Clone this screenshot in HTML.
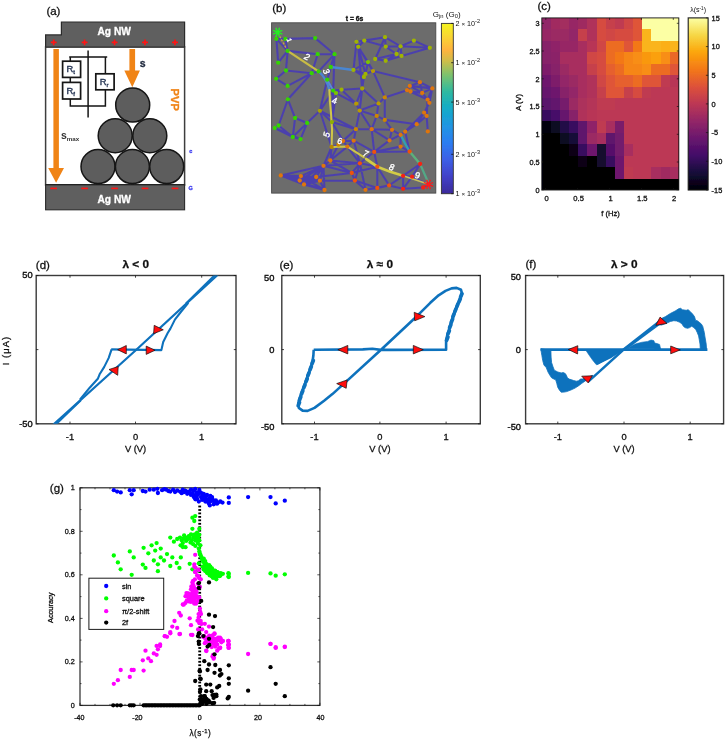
<!DOCTYPE html>
<html lang="en">
<head>
<meta charset="utf-8">
<title>Figure: memristive nanowire network dynamics</title>
<style>
html,body{margin:0;padding:0;background:#fff;}
body{width:725px;height:739px;overflow:hidden;}
svg{display:block;font-family:"Liberation Sans", Arial, Helvetica, sans-serif;}
</style>
</head>
<body>
<svg width="725" height="739" viewBox="0 0 725 739">
<defs>
<filter id="soft" x="-2%" y="-2%" width="104%" height="104%"><feGaussianBlur stdDeviation="0.45"/></filter>
</defs>
<rect x="0" y="0" width="725" height="739" fill="#ffffff"/>
<g filter="url(#soft)">
<g id="panel-a">
<text x="46.4" y="15.2" font-size="11.5" text-anchor="start" fill="#111" stroke="#111" stroke-width="0.3" >(a)</text>
<rect x="45.6" y="47" width="139" height="138" fill="#fff" stroke="#3c3c3c" stroke-width="1.5"/>
<path d="M61.4 22 H184.6 V47 H45.6 V34.9 H61.4 Z" fill="#5e5e5e" stroke="#2c2c2c" stroke-width="1.2"/>
<rect x="45.6" y="184.6" width="139" height="25.2" fill="#5e5e5e" stroke="#2c2c2c" stroke-width="1.1"/>
<path d="M45.6 184.7 H184.6" stroke="#222" stroke-width="1.3"/>
<text x="114.2" y="35.4" font-size="10.2" text-anchor="middle" fill="#fff" font-weight="bold" stroke="#fff" stroke-width="0.3" >Ag NW</text>
<text x="114.2" y="203.4" font-size="10.2" text-anchor="middle" fill="#fff" font-weight="bold" stroke="#fff" stroke-width="0.3" >Ag NW</text>
<path d="M50.8 42.4 H56.6 M53.7 39.5 V45.3" stroke="#ff1212" stroke-width="1.7" fill="none"/>
<path d="M50.4 188.4 H57.0" stroke="#ff1212" stroke-width="1.6" fill="none"/>
<path d="M81.7 42.4 H87.5 M84.6 39.5 V45.3" stroke="#ff1212" stroke-width="1.7" fill="none"/>
<path d="M81.3 188.4 H87.9" stroke="#ff1212" stroke-width="1.6" fill="none"/>
<path d="M111.7 42.4 H117.5 M114.6 39.5 V45.3" stroke="#ff1212" stroke-width="1.7" fill="none"/>
<path d="M111.3 188.4 H117.9" stroke="#ff1212" stroke-width="1.6" fill="none"/>
<path d="M142.1 42.4 H147.9 M145.0 39.5 V45.3" stroke="#ff1212" stroke-width="1.7" fill="none"/>
<path d="M141.7 188.4 H148.3" stroke="#ff1212" stroke-width="1.6" fill="none"/>
<path d="M172.1 42.4 H177.9 M175.0 39.5 V45.3" stroke="#ff1212" stroke-width="1.7" fill="none"/>
<path d="M171.7 188.4 H178.3" stroke="#ff1212" stroke-width="1.6" fill="none"/>
<path d="M53.4 49 H58.9 V168 H64.0 L56.1 182.8 L48.2 168 H53.4 Z" fill="#f08418"/>
<path d="M129.4 49 H135.1 V70.4 H139.9 L132.3 87.2 L124.3 70.4 H129.4 Z" fill="#f08418"/>
<text x="139.7" y="67.2" font-size="10.5" text-anchor="start" fill="#222c40" font-weight="bold" stroke="#222c40" stroke-width="0.3" >s</text>
<text x="61" y="138.6" font-size="10.5" font-weight="bold" fill="#333">s<tspan font-size="6.2" dy="2.2">max</tspan></text>
<text x="171.2" y="88.6" font-size="11.2" text-anchor="start" fill="#f08418" font-weight="bold" stroke="#f08418" stroke-width="0.3" transform="rotate(90 171.2 88.6)" >PVP</text>
<path d="M69.2 57.1 H107.2 M88.1 50.4 V117.5 M70.3 57.1 V106.1 H105.4 V57.1" stroke="#141414" stroke-width="1.5" fill="none"/>
<rect x="62.6" y="61.2" width="18.0" height="16.2" fill="#fff" stroke="#141414" stroke-width="1.7"/>
<text x="66.5" y="72.3" font-size="9.4" fill="#1c2c4c" stroke="#1c2c4c" stroke-width="0.35">R<tspan font-size="6" dy="1.9">t</tspan></text>
<rect x="62.6" y="82.4" width="18.0" height="16.6" fill="#fff" stroke="#141414" stroke-width="1.7"/>
<text x="66.5" y="93.7" font-size="9.4" fill="#1c2c4c" stroke="#1c2c4c" stroke-width="0.35">R<tspan font-size="6" dy="1.9">f</tspan></text>
<rect x="95.8" y="73.8" width="18.3" height="16.0" fill="#fff" stroke="#141414" stroke-width="1.7"/>
<text x="99.7" y="84.8" font-size="9.4" fill="#1c2c4c" stroke="#1c2c4c" stroke-width="0.35">R<tspan font-size="6" dy="1.9">r</tspan></text>
<circle cx="98" cy="166.6" r="17.0" fill="#5d5d5d" stroke="#141414" stroke-width="1.5"/>
<circle cx="132.4" cy="166.6" r="17.0" fill="#5d5d5d" stroke="#141414" stroke-width="1.5"/>
<circle cx="166.7" cy="166.6" r="17.0" fill="#5d5d5d" stroke="#141414" stroke-width="1.5"/>
<circle cx="115.2" cy="135.8" r="17.0" fill="#5d5d5d" stroke="#141414" stroke-width="1.5"/>
<circle cx="149.8" cy="135.8" r="17.0" fill="#5d5d5d" stroke="#141414" stroke-width="1.5"/>
<circle cx="132.7" cy="105.1" r="17.0" fill="#5d5d5d" stroke="#141414" stroke-width="1.5"/>
<text x="189.2" y="153.2" font-size="5.5" text-anchor="start" fill="#3a3af0" font-weight="bold" stroke="#3a3af0" stroke-width="0.3" >c</text>
<text x="188.6" y="190.0" font-size="5.5" text-anchor="start" fill="#3a3af0" font-weight="bold" stroke="#3a3af0" stroke-width="0.3" >G</text>
</g>
<g id="panel-b">
<text x="272.2" y="12.4" font-size="11.5" text-anchor="start" fill="#111" stroke="#111" stroke-width="0.3" >(b)</text>
<text x="354.6" y="20.8" font-size="6.8" text-anchor="middle" fill="#111" font-weight="bold" stroke="#111" stroke-width="0.3" >t = 6s</text>
<rect x="271.6" y="22.8" width="164.2" height="170.3" fill="#6c6c6c" stroke="#4a4a4a" stroke-width="0.9"/>
<filter id="soft2" x="-5%" y="-5%" width="110%" height="110%"><feGaussianBlur stdDeviation="0.45"/></filter>
<path d="M276.4 38.9L278.2 62.7M276.4 38.9L287.6 50.9M285.4 38.9L315.2 38.1M285.4 38.9L287.6 50.9M276.4 38.9L285.4 38.9M315.2 38.1L334.5 54.2M287.6 50.9L317.7 54.2M317.7 54.2L334.5 54.2M287.6 50.9L286.0 70.5M278.2 62.7L287.6 50.9M286.0 70.5L311.7 73.2M286.0 70.5L276.2 78.8M276.2 78.8L287.6 85.9M287.6 85.9L311.7 73.2M317.7 54.2L311.7 73.2M334.5 54.2L318.6 71.4M334.5 54.2L330.7 67.0M334.5 54.2L333.2 90.6M318.6 71.4L327.2 79.7M311.7 73.2L287.9 99.3M318.6 71.4L311.7 73.2M327.2 79.7L333.2 90.6M333.2 90.6L341.5 89.7M336.0 93.1L341.5 89.7M333.2 90.6L336.0 93.1M334.5 54.2L327.2 79.7M278.2 62.7L276.4 38.9M287.9 99.3L278.6 125.5M287.9 99.3L295.1 118.0M295.1 118.0L307.1 123.0M307.1 123.0L319.9 110.8M295.1 118.0L292.8 137.0M307.1 123.0L292.8 137.0M307.1 123.0L300.5 139.1M278.6 125.5L292.8 137.0M274.8 128.0L292.8 137.0M292.8 137.0L300.5 139.1M274.8 128.0L300.5 139.1M278.6 125.5L274.8 128.0M319.9 110.8L333.2 90.6M319.9 110.8L331.6 147.0M319.9 110.8L331.9 122.1M319.9 110.8L355.9 129.2M331.9 122.1L355.9 129.2M331.9 122.1L331.6 147.0M331.9 122.1L343.1 141.0M355.9 129.2L343.1 141.0M355.9 129.2L338.4 144.7M331.6 147.0L330.3 160.5M331.6 147.0L323.5 165.8M338.4 144.7L330.3 160.5M330.3 160.5L323.5 165.8M323.5 165.8L300.9 176.1M323.5 165.8L316.2 177.0M323.5 165.8L280.8 175.4M280.8 175.4L300.9 176.1M280.8 175.4L299.7 180.5M280.8 175.4L324.5 190.0M300.9 176.1L299.7 180.5M299.7 180.5L304.0 184.4M304.0 184.4L324.5 190.0M316.2 177.0L319.9 180.7M319.9 180.7L324.5 190.0M300.9 176.1L324.5 190.0M323.5 165.8L351.8 173.0M316.2 177.0L351.8 173.0M319.9 180.7L354.9 180.5M330.3 160.5L351.8 173.0M347.4 146.6L330.3 160.5M343.1 141.0L347.4 146.6M338.4 144.7L343.1 141.0M331.6 147.0L338.4 144.7M347.4 146.6L353.7 140.7M343.1 141.0L353.7 140.7M300.9 176.1L316.2 177.0M299.7 180.5L319.9 180.7M280.8 175.4L304.0 184.4M356.5 41.8L364.3 40.6M364.3 40.6L385.0 37.2M364.3 40.6L385.7 46.6M385.0 37.2L400.6 46.3M385.0 37.2L375.2 59.0M385.0 37.2L385.7 46.6M385.7 46.6L400.6 46.3M385.7 46.6L396.5 54.0M400.6 46.3L396.5 54.0M400.6 46.3L401.5 55.9M400.6 46.3L413.9 40.6M413.9 40.6L429.8 47.8M400.6 46.3L429.8 47.8M401.5 55.9L429.8 47.8M396.5 54.0L375.2 59.0M401.5 55.9L385.7 60.8M375.2 59.0L385.7 60.8M396.5 54.0L385.7 60.8M358.2 46.8L368.0 62.1M358.2 46.8L373.0 71.1M356.5 41.8L353.5 69.9M358.2 46.8L362.2 88.5M358.2 46.8L365.5 73.9M368.0 62.1L353.5 69.9M368.0 62.1L373.0 71.1M353.5 69.9L365.5 73.9M353.5 69.9L363.9 77.0M373.0 71.1L365.5 73.9M363.9 77.0L362.2 88.5M373.0 71.1L419.9 82.2M373.0 71.1L384.8 97.4M384.8 97.4L407.1 90.2M362.2 88.5L356.2 103.7M362.2 88.5L378.5 103.4M384.8 97.4L378.5 103.4M419.9 82.2L409.8 85.9M419.9 82.2L432.3 88.4M419.9 82.2L422.2 92.9M409.8 85.9L407.1 90.2M409.8 85.9L422.2 92.9M407.1 90.2L410.5 91.5M410.5 91.5L422.2 92.9M410.5 91.5L427.6 99.6M422.2 92.9L432.3 88.4M422.2 92.9L427.6 99.6M432.3 88.4L427.6 99.6M432.3 88.4L429.4 102.8M427.6 99.6L429.4 102.8M409.8 85.9L432.3 88.4M407.1 90.2L427.6 99.6M341.5 89.7L362.2 88.5M356.5 41.8L358.2 46.8M364.3 40.6L358.2 46.8M365.5 73.9L363.9 77.0M368.0 62.1L365.5 73.9M336.0 93.1L356.2 103.7M341.5 89.7L356.2 103.7M362.2 88.5L359.7 110.6M356.2 103.7L359.7 110.6M378.5 103.4L376.7 115.9M378.5 103.4L359.7 110.6M384.8 97.4L384.8 119.9M429.4 102.8L424.1 112.7M427.6 99.6L426.6 115.9M359.7 110.6L355.9 129.2M359.7 110.6L371.7 129.2M359.7 110.6L376.7 115.9M376.7 115.9L384.8 119.9M376.7 115.9L371.7 129.2M384.8 119.9L392.0 129.8M384.8 119.9L416.7 124.2M355.9 129.2L371.7 129.2M371.7 129.2L392.0 129.8M392.0 129.8L400.6 134.8M400.6 134.8L405.2 131.7M405.2 131.7L416.7 124.2M416.7 124.2L424.1 112.7M416.7 124.2L426.6 115.9M424.1 112.7L426.6 115.9M426.6 115.9L427.8 131.4M405.2 131.7L424.1 112.7M355.9 129.2L353.7 140.7M371.7 129.2L389.5 140.4M371.7 129.2L374.2 151.9M392.0 129.8L389.5 140.4M389.5 140.4L400.6 134.8M389.5 140.4L374.2 151.9M400.6 134.8L400.6 146.6M400.6 146.6L409.6 151.5M374.2 151.9L409.6 151.5M374.2 151.9L377.3 166.7M374.2 151.9L359.9 163.3M353.7 140.7L359.9 163.3M353.7 140.7L374.2 151.9M359.9 163.3L377.3 166.7M359.9 163.3L351.8 173.0M359.9 163.3L354.9 180.5M359.9 163.3L365.5 189.8M377.3 166.7L389.1 185.4M377.3 166.7L377.3 187.9M420.1 164.0L412.1 176.7M403.1 175.8L412.1 176.7M403.1 175.8L403.1 188.8M403.1 175.8L389.1 185.4M412.1 176.7L403.1 188.8M389.1 185.4L377.3 187.9M389.1 185.4L403.1 188.8M377.3 187.9L365.5 189.8M403.1 188.8L423.2 187.5M351.8 173.0L354.9 180.5M354.9 180.5L365.5 189.8M351.8 173.0L377.3 166.7M347.4 146.6L359.9 163.3M400.6 146.6L374.2 151.9M405.2 131.7L409.6 151.5M403.1 175.8L420.1 164.0M354.9 180.5L377.3 187.9M377.3 166.7L403.1 175.8M333.2 90.6L331.9 122.1M336.0 93.1L331.9 122.1M327.2 79.7L319.9 110.8M300.9 176.1L319.9 180.7M299.7 180.5L316.2 177.0M304.0 184.4L319.9 180.7M304.0 184.4L316.2 177.0M300.9 176.1L304.0 184.4M280.8 175.4L316.2 177.0M280.8 175.4L319.9 180.7M323.5 165.8L299.7 180.5M323.5 165.8L304.0 184.4M323.5 165.8L319.9 180.7M323.5 165.8L324.5 190.0M330.3 160.5L359.9 163.3M323.5 165.8L359.9 163.3" stroke="#4232c4" stroke-width="2.1" stroke-linecap="round" fill="none" opacity="0.74" filter="url(#soft2)"/>
<path d="M428.5 184.4L423.2 187.5M428.5 184.4L412.1 176.7" stroke="#4232c4" stroke-width="1.6" fill="none" opacity="0.8"/>
<path d="M277.9 33 L287.6 50.9" stroke="#c9a04a" stroke-width="1.3" stroke-dasharray="2.2 1.4" fill="none"/>
<path d="M287.6 50.9 L318.6 71.4" stroke="#c8bc44" stroke-width="2.3" stroke-linecap="round" fill="none"/>
<path d="M318.6 71.4 Q326.5 78 329.4 90" stroke="#4f86cf" stroke-width="2.4" stroke-linecap="round" fill="none"/>
<path d="M327.2 79.7 L333.2 90.6" stroke="#5a8ad6" stroke-width="2.0" stroke-linecap="round" fill="none"/>
<path d="M329.4 90 Q329.6 100 331 113 Q332.8 130 331.6 147" stroke="#cfc648" stroke-width="2.1" stroke-linecap="round" fill="none"/>
<path d="M331.6 147 L347.4 146.6 L363.7 157.1" stroke="#cfc648" stroke-width="2.0" stroke-linecap="round" stroke-linejoin="round" fill="none"/>
<path d="M366 158.8 L377.3 166.7 Q390 172 403.1 175.8" stroke="#d2cc44" stroke-width="2.7" stroke-linecap="round" fill="none"/>
<path d="M403.1 175.8 L426.5 183.5" stroke="#c9c258" stroke-width="1.7" stroke-linecap="round" fill="none"/>
<path d="M330.7 67 L353.5 69.9" stroke="#4a86d2" stroke-width="2.5" stroke-linecap="round" fill="none"/>
<path d="M400.6 134.8 L404.5 142.5 L409.6 151.5" stroke="#2f9fb4" stroke-width="2.3" stroke-linecap="round" fill="none"/>
<path d="M409.6 151.5 L420.1 164" stroke="#5cb07c" stroke-width="2.4" stroke-linecap="round" fill="none"/>
<path d="M420.1 164 L427.8 181.5" stroke="#52a886" stroke-width="2.2" stroke-linecap="round" fill="none"/>
<circle cx="276.4" cy="38.9" r="2.15" fill="#35d400"/>
<circle cx="285.4" cy="38.9" r="2.15" fill="#35d400"/>
<circle cx="315.2" cy="38.1" r="2.15" fill="#35d400"/>
<circle cx="287.6" cy="50.9" r="2.15" fill="#35d400"/>
<circle cx="317.7" cy="54.2" r="2.15" fill="#35d400"/>
<circle cx="334.5" cy="54.2" r="2.15" fill="#35d400"/>
<circle cx="278.2" cy="62.7" r="2.15" fill="#35d400"/>
<circle cx="286.0" cy="70.5" r="2.15" fill="#35d400"/>
<circle cx="311.7" cy="73.2" r="2.15" fill="#35d400"/>
<circle cx="318.6" cy="71.4" r="2.15" fill="#35d400"/>
<circle cx="330.7" cy="67.0" r="2.15" fill="#35d400"/>
<circle cx="276.2" cy="78.8" r="2.15" fill="#35d400"/>
<circle cx="287.6" cy="85.9" r="2.15" fill="#35d400"/>
<circle cx="327.2" cy="79.7" r="2.15" fill="#35d400"/>
<circle cx="333.2" cy="90.6" r="2.15" fill="#35d400"/>
<circle cx="336.0" cy="93.1" r="2.15" fill="#7cc400"/>
<circle cx="341.5" cy="89.7" r="2.15" fill="#9fb400"/>
<circle cx="287.9" cy="99.3" r="2.15" fill="#35d400"/>
<circle cx="353.5" cy="69.9" r="2.15" fill="#9fb400"/>
<circle cx="356.5" cy="41.8" r="2.15" fill="#9fb400"/>
<circle cx="364.3" cy="40.6" r="2.15" fill="#9fb400"/>
<circle cx="358.2" cy="46.8" r="2.15" fill="#9fb400"/>
<circle cx="385.0" cy="37.2" r="2.15" fill="#9fb400"/>
<circle cx="385.7" cy="46.6" r="2.15" fill="#9fb400"/>
<circle cx="400.6" cy="46.3" r="2.15" fill="#9fb400"/>
<circle cx="396.5" cy="54.0" r="2.15" fill="#9fb400"/>
<circle cx="401.5" cy="55.9" r="2.15" fill="#9fb400"/>
<circle cx="413.9" cy="40.6" r="2.15" fill="#9fb400"/>
<circle cx="429.8" cy="47.8" r="2.15" fill="#9fb400"/>
<circle cx="375.2" cy="59.0" r="2.15" fill="#9fb400"/>
<circle cx="385.7" cy="60.8" r="2.15" fill="#9fb400"/>
<circle cx="368.0" cy="62.1" r="2.15" fill="#7cc400"/>
<circle cx="373.0" cy="71.1" r="2.15" fill="#b89a00"/>
<circle cx="365.5" cy="73.9" r="2.15" fill="#9fb400"/>
<circle cx="363.9" cy="77.0" r="2.15" fill="#9fb400"/>
<circle cx="362.2" cy="88.5" r="2.15" fill="#a8a600"/>
<circle cx="384.8" cy="97.4" r="2.15" fill="#cc8600"/>
<circle cx="378.5" cy="103.4" r="2.15" fill="#b89a00"/>
<circle cx="356.2" cy="103.7" r="2.15" fill="#b89a00"/>
<circle cx="419.9" cy="82.2" r="2.15" fill="#de7408"/>
<circle cx="409.8" cy="85.9" r="2.15" fill="#de7408"/>
<circle cx="407.1" cy="90.2" r="2.15" fill="#de7408"/>
<circle cx="410.5" cy="91.5" r="2.15" fill="#de7408"/>
<circle cx="422.2" cy="92.9" r="2.15" fill="#de7408"/>
<circle cx="432.3" cy="88.4" r="2.15" fill="#de7408"/>
<circle cx="427.6" cy="99.6" r="2.15" fill="#de7408"/>
<circle cx="429.4" cy="102.8" r="2.15" fill="#de7408"/>
<circle cx="295.1" cy="118.0" r="2.15" fill="#35d400"/>
<circle cx="307.1" cy="123.0" r="2.15" fill="#35d400"/>
<circle cx="278.6" cy="125.5" r="2.15" fill="#35d400"/>
<circle cx="274.8" cy="128.0" r="2.15" fill="#35d400"/>
<circle cx="292.8" cy="137.0" r="2.15" fill="#35d400"/>
<circle cx="300.5" cy="139.1" r="2.15" fill="#35d400"/>
<circle cx="319.9" cy="110.8" r="2.15" fill="#a8a000"/>
<circle cx="331.9" cy="122.1" r="2.15" fill="#90b000"/>
<circle cx="355.9" cy="129.2" r="2.15" fill="#cc8600"/>
<circle cx="331.6" cy="147.0" r="2.15" fill="#b88800"/>
<circle cx="338.4" cy="144.7" r="2.15" fill="#cc8600"/>
<circle cx="343.1" cy="141.0" r="2.15" fill="#de7408"/>
<circle cx="347.4" cy="146.6" r="2.15" fill="#de7408"/>
<circle cx="353.7" cy="140.7" r="2.15" fill="#de7408"/>
<circle cx="330.3" cy="160.5" r="2.15" fill="#de7408"/>
<circle cx="323.5" cy="165.8" r="2.15" fill="#de7408"/>
<circle cx="280.8" cy="175.4" r="2.15" fill="#de7408"/>
<circle cx="300.9" cy="176.1" r="2.15" fill="#de7408"/>
<circle cx="299.7" cy="180.5" r="2.15" fill="#de7408"/>
<circle cx="304.0" cy="184.4" r="2.15" fill="#de7408"/>
<circle cx="316.2" cy="177.0" r="2.15" fill="#de7408"/>
<circle cx="319.9" cy="180.7" r="2.15" fill="#de7408"/>
<circle cx="324.5" cy="190.0" r="2.15" fill="#de7408"/>
<circle cx="351.8" cy="173.0" r="2.15" fill="#ee5208"/>
<circle cx="354.9" cy="180.5" r="2.15" fill="#ee5208"/>
<circle cx="359.7" cy="110.6" r="2.15" fill="#b89a00"/>
<circle cx="376.7" cy="115.9" r="2.15" fill="#cc8600"/>
<circle cx="384.8" cy="119.9" r="2.15" fill="#cc8600"/>
<circle cx="371.7" cy="129.2" r="2.15" fill="#de7408"/>
<circle cx="392.0" cy="129.8" r="2.15" fill="#de7408"/>
<circle cx="400.6" cy="134.8" r="2.15" fill="#de7408"/>
<circle cx="405.2" cy="131.7" r="2.15" fill="#de7408"/>
<circle cx="416.7" cy="124.2" r="2.15" fill="#de7408"/>
<circle cx="424.1" cy="112.7" r="2.15" fill="#de7408"/>
<circle cx="426.6" cy="115.9" r="2.15" fill="#de7408"/>
<circle cx="427.8" cy="131.4" r="2.15" fill="#de7408"/>
<circle cx="389.5" cy="140.4" r="2.15" fill="#de7408"/>
<circle cx="400.6" cy="146.6" r="2.15" fill="#de7408"/>
<circle cx="374.2" cy="151.9" r="2.15" fill="#ee5208"/>
<circle cx="409.6" cy="151.5" r="2.15" fill="#ee5208"/>
<circle cx="359.9" cy="163.3" r="2.15" fill="#ee5208"/>
<circle cx="377.3" cy="166.7" r="2.15" fill="#ee5208"/>
<circle cx="420.1" cy="164.0" r="2.15" fill="#f52412"/>
<circle cx="403.1" cy="175.8" r="2.15" fill="#f52412"/>
<circle cx="412.1" cy="176.7" r="2.15" fill="#f52412"/>
<circle cx="389.1" cy="185.4" r="2.15" fill="#ee5208"/>
<circle cx="377.3" cy="187.9" r="2.15" fill="#ee5208"/>
<circle cx="365.5" cy="189.8" r="2.15" fill="#de7408"/>
<circle cx="403.1" cy="188.8" r="2.15" fill="#f52412"/>
<circle cx="423.2" cy="187.5" r="2.15" fill="#f52412"/>
<path d="M273.1 30.4L282.3 34.2M275.8 27.7L279.6 36.9M279.6 27.7L275.8 36.9M282.3 30.4L273.1 34.2" stroke="#22f022" stroke-width="1.35" fill="none"/>
<path d="M423.9 182.5L433.1 186.3M426.6 179.8L430.4 189.0M430.4 179.8L426.6 189.0M433.1 182.5L423.9 186.3" stroke="#ff1a1a" stroke-width="1.35" fill="none"/>
<text x="286.6" y="39.6" font-size="6.4" text-anchor="start" fill="#fff" stroke="#fff" stroke-width="0.35" font-style="italic" transform="rotate(62 286.6 39.6)" >1</text>
<text x="303.4" y="58.6" font-size="8.8" text-anchor="start" fill="#fff" stroke="#fff" stroke-width="0.35" font-style="italic" transform="rotate(25 303.4 58.6)" >2</text>
<text x="322.4" y="70.6" font-size="8.8" text-anchor="start" fill="#fff" stroke="#fff" stroke-width="0.35" font-style="italic" transform="rotate(62 322.4 70.6)" >3</text>
<text x="331.4" y="103.2" font-size="8.8" text-anchor="start" fill="#fff" stroke="#fff" stroke-width="0.35" font-style="italic" transform="rotate(10 331.4 103.2)" >4</text>
<text x="329.0" y="137.8" font-size="8.8" text-anchor="start" fill="#fff" stroke="#fff" stroke-width="0.35" font-style="italic" transform="rotate(-78 329.0 137.8)" >5</text>
<text x="337.2" y="143.8" font-size="8.8" text-anchor="start" fill="#fff" stroke="#fff" stroke-width="0.35" font-style="italic" transform="rotate(0 337.2 143.8)" >6</text>
<text x="362.2" y="155.6" font-size="8.8" text-anchor="start" fill="#fff" stroke="#fff" stroke-width="0.35" font-style="italic" transform="rotate(22 362.2 155.6)" >7</text>
<text x="388.4" y="169.4" font-size="8.8" text-anchor="start" fill="#fff" stroke="#fff" stroke-width="0.35" font-style="italic" transform="rotate(14 388.4 169.4)" >8</text>
<text x="414.6" y="178.0" font-size="8.8" text-anchor="start" fill="#fff" stroke="#fff" stroke-width="0.35" font-style="italic" transform="rotate(8 414.6 178.0)" >9</text>
<linearGradient id="parula" x1="0" y1="1" x2="0" y2="0">
<stop offset="0" stop-color="#3b2a9a"/><stop offset="0.1" stop-color="#4140c8"/><stop offset="0.2" stop-color="#3d5fe6"/>
<stop offset="0.3" stop-color="#2b7df2"/><stop offset="0.4" stop-color="#2096e2"/><stop offset="0.5" stop-color="#12abc8"/>
<stop offset="0.6" stop-color="#2fb9a0"/><stop offset="0.7" stop-color="#7fc26c"/><stop offset="0.78" stop-color="#cfbd4a"/>
<stop offset="0.845" stop-color="#ffb33e"/><stop offset="0.93" stop-color="#f8d832"/><stop offset="1" stop-color="#f4f41e"/>
</linearGradient>
<rect x="441.4" y="23.4" width="11.9" height="170.3" fill="url(#parula)" stroke="#333" stroke-width="0.9"/>
<path d="M451.2 23.4 H453.3" stroke="#111" stroke-width="0.8"/>
<text x="455.4" y="26.0" font-size="7.2" fill="#111">2 <tspan font-size="6.2">×</tspan> 10<tspan font-size="5.6" dy="-3">-2</tspan></text>
<path d="M451.2 62.7 H453.3" stroke="#111" stroke-width="0.8"/>
<text x="455.4" y="65.3" font-size="7.2" fill="#111">1 <tspan font-size="6.2">×</tspan> 10<tspan font-size="5.6" dy="-3">-2</tspan></text>
<path d="M451.2 102.1 H453.3" stroke="#111" stroke-width="0.8"/>
<text x="455.4" y="104.7" font-size="7.2" fill="#111">5 <tspan font-size="6.2">×</tspan> 10<tspan font-size="5.6" dy="-3">-3</tspan></text>
<path d="M451.2 154.3 H453.3" stroke="#111" stroke-width="0.8"/>
<text x="455.4" y="156.9" font-size="7.2" fill="#111">2 <tspan font-size="6.2">×</tspan> 10<tspan font-size="5.6" dy="-3">-3</tspan></text>
<path d="M451.2 193.7 H453.3" stroke="#111" stroke-width="0.8"/>
<text x="455.4" y="196.3" font-size="7.2" fill="#111">1 <tspan font-size="6.2">×</tspan> 10<tspan font-size="5.6" dy="-3">-3</tspan></text>
<text x="432.8" y="16.6" font-size="8" fill="#111">G<tspan font-size="5.8" dy="1.8">jn</tspan><tspan dy="-1.8"> (G</tspan><tspan font-size="5.8" dy="1.8">0</tspan><tspan dy="-1.8">)</tspan></text>
</g>
<g id="panel-c">
<text x="537.4" y="10.2" font-size="11.5" text-anchor="start" fill="#111" stroke="#111" stroke-width="0.3" >(c)</text>
<g shape-rendering="crispEdges">
<rect x="541.80" y="17.90" width="9.43" height="11.77" fill="#912567"/>
<rect x="550.93" y="17.90" width="9.43" height="11.77" fill="#a12c60"/>
<rect x="560.07" y="17.90" width="9.43" height="11.77" fill="#a32d5f"/>
<rect x="569.20" y="17.90" width="9.43" height="11.77" fill="#972865"/>
<rect x="578.33" y="17.90" width="9.43" height="11.77" fill="#9f2b61"/>
<rect x="587.47" y="17.90" width="9.43" height="11.77" fill="#b0325a"/>
<rect x="596.60" y="17.90" width="9.43" height="11.77" fill="#d64c3f"/>
<rect x="605.73" y="17.90" width="9.43" height="11.77" fill="#c63f4c"/>
<rect x="614.87" y="17.90" width="9.43" height="11.77" fill="#bf3a51"/>
<rect x="624.00" y="17.90" width="9.43" height="11.77" fill="#d04744"/>
<rect x="633.13" y="17.90" width="9.43" height="11.77" fill="#df5537"/>
<rect x="642.27" y="17.90" width="9.43" height="11.77" fill="#fcffa4"/>
<rect x="651.40" y="17.90" width="9.43" height="11.77" fill="#fcffa4"/>
<rect x="660.53" y="17.90" width="9.43" height="11.77" fill="#fcffa4"/>
<rect x="669.67" y="17.90" width="9.43" height="11.77" fill="#fcffa4"/>
<rect x="541.80" y="29.37" width="9.43" height="11.77" fill="#972865"/>
<rect x="550.93" y="29.37" width="9.43" height="11.77" fill="#9b2963"/>
<rect x="560.07" y="29.37" width="9.43" height="11.77" fill="#9b2963"/>
<rect x="569.20" y="29.37" width="9.43" height="11.77" fill="#932667"/>
<rect x="578.33" y="29.37" width="9.43" height="11.77" fill="#c63f4c"/>
<rect x="587.47" y="29.37" width="9.43" height="11.77" fill="#b0325a"/>
<rect x="596.60" y="29.37" width="9.43" height="11.77" fill="#d64c3f"/>
<rect x="605.73" y="29.37" width="9.43" height="11.77" fill="#d04744"/>
<rect x="614.87" y="29.37" width="9.43" height="11.77" fill="#d64c3f"/>
<rect x="624.00" y="29.37" width="9.43" height="11.77" fill="#d64c3f"/>
<rect x="633.13" y="29.37" width="9.43" height="11.77" fill="#df5537"/>
<rect x="642.27" y="29.37" width="9.43" height="11.77" fill="#fab41c"/>
<rect x="651.40" y="29.37" width="9.43" height="11.77" fill="#fcffa4"/>
<rect x="660.53" y="29.37" width="9.43" height="11.77" fill="#fcffa4"/>
<rect x="669.67" y="29.37" width="9.43" height="11.77" fill="#fcffa4"/>
<rect x="541.80" y="40.85" width="9.43" height="11.77" fill="#872269"/>
<rect x="550.93" y="40.85" width="9.43" height="11.77" fill="#8f2468"/>
<rect x="560.07" y="40.85" width="9.43" height="11.77" fill="#972865"/>
<rect x="569.20" y="40.85" width="9.43" height="11.77" fill="#972865"/>
<rect x="578.33" y="40.85" width="9.43" height="11.77" fill="#a82e5e"/>
<rect x="587.47" y="40.85" width="9.43" height="11.77" fill="#b83556"/>
<rect x="596.60" y="40.85" width="9.43" height="11.77" fill="#d04744"/>
<rect x="605.73" y="40.85" width="9.43" height="11.77" fill="#ec6c23"/>
<rect x="614.87" y="40.85" width="9.43" height="11.77" fill="#ec6c23"/>
<rect x="624.00" y="40.85" width="9.43" height="11.77" fill="#df5537"/>
<rect x="633.13" y="40.85" width="9.43" height="11.77" fill="#f37819"/>
<rect x="642.27" y="40.85" width="9.43" height="11.77" fill="#fab41c"/>
<rect x="651.40" y="40.85" width="9.43" height="11.77" fill="#fab41c"/>
<rect x="660.53" y="40.85" width="9.43" height="11.77" fill="#fbaf16"/>
<rect x="669.67" y="40.85" width="9.43" height="11.77" fill="#fab41c"/>
<rect x="541.80" y="52.32" width="9.43" height="11.77" fill="#872269"/>
<rect x="550.93" y="52.32" width="9.43" height="11.77" fill="#8b2368"/>
<rect x="560.07" y="52.32" width="9.43" height="11.77" fill="#a82e5e"/>
<rect x="569.20" y="52.32" width="9.43" height="11.77" fill="#a82e5e"/>
<rect x="578.33" y="52.32" width="9.43" height="11.77" fill="#a82e5e"/>
<rect x="587.47" y="52.32" width="9.43" height="11.77" fill="#d04744"/>
<rect x="596.60" y="52.32" width="9.43" height="11.77" fill="#d64c3f"/>
<rect x="605.73" y="52.32" width="9.43" height="11.77" fill="#ec6c23"/>
<rect x="614.87" y="52.32" width="9.43" height="11.77" fill="#f37819"/>
<rect x="624.00" y="52.32" width="9.43" height="11.77" fill="#f68614"/>
<rect x="633.13" y="52.32" width="9.43" height="11.77" fill="#f88e12"/>
<rect x="642.27" y="52.32" width="9.43" height="11.77" fill="#f9980e"/>
<rect x="651.40" y="52.32" width="9.43" height="11.77" fill="#fba00c"/>
<rect x="660.53" y="52.32" width="9.43" height="11.77" fill="#f88e12"/>
<rect x="669.67" y="52.32" width="9.43" height="11.77" fill="#ea6826"/>
<rect x="541.80" y="63.79" width="9.43" height="11.77" fill="#7e1e6a"/>
<rect x="550.93" y="63.79" width="9.43" height="11.77" fill="#872269"/>
<rect x="560.07" y="63.79" width="9.43" height="11.77" fill="#9b2963"/>
<rect x="569.20" y="63.79" width="9.43" height="11.77" fill="#a82e5e"/>
<rect x="578.33" y="63.79" width="9.43" height="11.77" fill="#a82e5e"/>
<rect x="587.47" y="63.79" width="9.43" height="11.77" fill="#c63f4c"/>
<rect x="596.60" y="63.79" width="9.43" height="11.77" fill="#d64c3f"/>
<rect x="605.73" y="63.79" width="9.43" height="11.77" fill="#e6612d"/>
<rect x="614.87" y="63.79" width="9.43" height="11.77" fill="#ec6c23"/>
<rect x="624.00" y="63.79" width="9.43" height="11.77" fill="#f68614"/>
<rect x="633.13" y="63.79" width="9.43" height="11.77" fill="#f68614"/>
<rect x="642.27" y="63.79" width="9.43" height="11.77" fill="#f88e12"/>
<rect x="651.40" y="63.79" width="9.43" height="11.77" fill="#ec6c23"/>
<rect x="660.53" y="63.79" width="9.43" height="11.77" fill="#ec6c23"/>
<rect x="669.67" y="63.79" width="9.43" height="11.77" fill="#df5537"/>
<rect x="541.80" y="75.27" width="9.43" height="11.77" fill="#6e186d"/>
<rect x="550.93" y="75.27" width="9.43" height="11.77" fill="#7e1e6a"/>
<rect x="560.07" y="75.27" width="9.43" height="11.77" fill="#932667"/>
<rect x="569.20" y="75.27" width="9.43" height="11.77" fill="#9b2963"/>
<rect x="578.33" y="75.27" width="9.43" height="11.77" fill="#a82e5e"/>
<rect x="587.47" y="75.27" width="9.43" height="11.77" fill="#b0325a"/>
<rect x="596.60" y="75.27" width="9.43" height="11.77" fill="#d04744"/>
<rect x="605.73" y="75.27" width="9.43" height="11.77" fill="#df5537"/>
<rect x="614.87" y="75.27" width="9.43" height="11.77" fill="#e6612d"/>
<rect x="624.00" y="75.27" width="9.43" height="11.77" fill="#e6612d"/>
<rect x="633.13" y="75.27" width="9.43" height="11.77" fill="#ec6c23"/>
<rect x="642.27" y="75.27" width="9.43" height="11.77" fill="#df5537"/>
<rect x="651.40" y="75.27" width="9.43" height="11.77" fill="#df5537"/>
<rect x="660.53" y="75.27" width="9.43" height="11.77" fill="#bf3a51"/>
<rect x="669.67" y="75.27" width="9.43" height="11.77" fill="#b83556"/>
<rect x="541.80" y="86.74" width="9.43" height="11.77" fill="#66166d"/>
<rect x="550.93" y="86.74" width="9.43" height="11.77" fill="#6e186d"/>
<rect x="560.07" y="86.74" width="9.43" height="11.77" fill="#872269"/>
<rect x="569.20" y="86.74" width="9.43" height="11.77" fill="#932667"/>
<rect x="578.33" y="86.74" width="9.43" height="11.77" fill="#a82e5e"/>
<rect x="587.47" y="86.74" width="9.43" height="11.77" fill="#b0325a"/>
<rect x="596.60" y="86.74" width="9.43" height="11.77" fill="#c63f4c"/>
<rect x="605.73" y="86.74" width="9.43" height="11.77" fill="#df5537"/>
<rect x="614.87" y="86.74" width="9.43" height="11.77" fill="#df5537"/>
<rect x="624.00" y="86.74" width="9.43" height="11.77" fill="#c63f4c"/>
<rect x="633.13" y="86.74" width="9.43" height="11.77" fill="#d64c3f"/>
<rect x="642.27" y="86.74" width="9.43" height="11.77" fill="#bf3a51"/>
<rect x="651.40" y="86.74" width="9.43" height="11.77" fill="#bc3754"/>
<rect x="660.53" y="86.74" width="9.43" height="11.77" fill="#bc3754"/>
<rect x="669.67" y="86.74" width="9.43" height="11.77" fill="#bc3754"/>
<rect x="541.80" y="98.21" width="9.43" height="11.77" fill="#5a126c"/>
<rect x="550.93" y="98.21" width="9.43" height="11.77" fill="#62146d"/>
<rect x="560.07" y="98.21" width="9.43" height="11.77" fill="#761c6c"/>
<rect x="569.20" y="98.21" width="9.43" height="11.77" fill="#9b2963"/>
<rect x="578.33" y="98.21" width="9.43" height="11.77" fill="#ac305c"/>
<rect x="587.47" y="98.21" width="9.43" height="11.77" fill="#b43458"/>
<rect x="596.60" y="98.21" width="9.43" height="11.77" fill="#bf3a51"/>
<rect x="605.73" y="98.21" width="9.43" height="11.77" fill="#bf3a51"/>
<rect x="614.87" y="98.21" width="9.43" height="11.77" fill="#bc3754"/>
<rect x="624.00" y="98.21" width="9.43" height="11.77" fill="#bc3754"/>
<rect x="633.13" y="98.21" width="9.43" height="11.77" fill="#bc3754"/>
<rect x="642.27" y="98.21" width="9.43" height="11.77" fill="#bc3754"/>
<rect x="651.40" y="98.21" width="9.43" height="11.77" fill="#bc3754"/>
<rect x="660.53" y="98.21" width="9.43" height="11.77" fill="#bc3754"/>
<rect x="669.67" y="98.21" width="9.43" height="11.77" fill="#bc3754"/>
<rect x="541.80" y="109.69" width="9.43" height="11.77" fill="#390a5f"/>
<rect x="550.93" y="109.69" width="9.43" height="11.77" fill="#460b69"/>
<rect x="560.07" y="109.69" width="9.43" height="11.77" fill="#66166d"/>
<rect x="569.20" y="109.69" width="9.43" height="11.77" fill="#872269"/>
<rect x="578.33" y="109.69" width="9.43" height="11.77" fill="#b0325a"/>
<rect x="587.47" y="109.69" width="9.43" height="11.77" fill="#b83556"/>
<rect x="596.60" y="109.69" width="9.43" height="11.77" fill="#bc3754"/>
<rect x="605.73" y="109.69" width="9.43" height="11.77" fill="#bc3754"/>
<rect x="614.87" y="109.69" width="9.43" height="11.77" fill="#bc3754"/>
<rect x="624.00" y="109.69" width="9.43" height="11.77" fill="#bc3754"/>
<rect x="633.13" y="109.69" width="9.43" height="11.77" fill="#bc3754"/>
<rect x="642.27" y="109.69" width="9.43" height="11.77" fill="#bc3754"/>
<rect x="651.40" y="109.69" width="9.43" height="11.77" fill="#bc3754"/>
<rect x="660.53" y="109.69" width="9.43" height="11.77" fill="#bc3754"/>
<rect x="669.67" y="109.69" width="9.43" height="11.77" fill="#bc3754"/>
<rect x="541.80" y="121.16" width="9.43" height="11.77" fill="#020109"/>
<rect x="550.93" y="121.16" width="9.43" height="11.77" fill="#0d0724"/>
<rect x="560.07" y="121.16" width="9.43" height="11.77" fill="#230b47"/>
<rect x="569.20" y="121.16" width="9.43" height="11.77" fill="#390a5f"/>
<rect x="578.33" y="121.16" width="9.43" height="11.77" fill="#5e136c"/>
<rect x="587.47" y="121.16" width="9.43" height="11.77" fill="#8f2468"/>
<rect x="596.60" y="121.16" width="9.43" height="11.77" fill="#bf3a51"/>
<rect x="605.73" y="121.16" width="9.43" height="11.77" fill="#a82e5e"/>
<rect x="614.87" y="121.16" width="9.43" height="11.77" fill="#7a1d6b"/>
<rect x="624.00" y="121.16" width="9.43" height="11.77" fill="#bc3754"/>
<rect x="633.13" y="121.16" width="9.43" height="11.77" fill="#bc3754"/>
<rect x="642.27" y="121.16" width="9.43" height="11.77" fill="#bc3754"/>
<rect x="651.40" y="121.16" width="9.43" height="11.77" fill="#bc3754"/>
<rect x="660.53" y="121.16" width="9.43" height="11.77" fill="#bc3754"/>
<rect x="669.67" y="121.16" width="9.43" height="11.77" fill="#bc3754"/>
<rect x="541.80" y="132.63" width="9.43" height="11.77" fill="#000004"/>
<rect x="550.93" y="132.63" width="9.43" height="11.77" fill="#000004"/>
<rect x="560.07" y="132.63" width="9.43" height="11.77" fill="#0d0724"/>
<rect x="569.20" y="132.63" width="9.43" height="11.77" fill="#160b39"/>
<rect x="578.33" y="132.63" width="9.43" height="11.77" fill="#5e136c"/>
<rect x="587.47" y="132.63" width="9.43" height="11.77" fill="#9b2963"/>
<rect x="596.60" y="132.63" width="9.43" height="11.77" fill="#a82e5e"/>
<rect x="605.73" y="132.63" width="9.43" height="11.77" fill="#5e136c"/>
<rect x="614.87" y="132.63" width="9.43" height="11.77" fill="#721a6d"/>
<rect x="624.00" y="132.63" width="9.43" height="11.77" fill="#bc3754"/>
<rect x="633.13" y="132.63" width="9.43" height="11.77" fill="#bc3754"/>
<rect x="642.27" y="132.63" width="9.43" height="11.77" fill="#bc3754"/>
<rect x="651.40" y="132.63" width="9.43" height="11.77" fill="#bc3754"/>
<rect x="660.53" y="132.63" width="9.43" height="11.77" fill="#bc3754"/>
<rect x="669.67" y="132.63" width="9.43" height="11.77" fill="#bc3754"/>
<rect x="541.80" y="144.11" width="9.43" height="11.77" fill="#000004"/>
<rect x="550.93" y="144.11" width="9.43" height="11.77" fill="#000004"/>
<rect x="560.07" y="144.11" width="9.43" height="11.77" fill="#000004"/>
<rect x="569.20" y="144.11" width="9.43" height="11.77" fill="#070314"/>
<rect x="578.33" y="144.11" width="9.43" height="11.77" fill="#390a5f"/>
<rect x="587.47" y="144.11" width="9.43" height="11.77" fill="#6e186d"/>
<rect x="596.60" y="144.11" width="9.43" height="11.77" fill="#12092e"/>
<rect x="605.73" y="144.11" width="9.43" height="11.77" fill="#56106b"/>
<rect x="614.87" y="144.11" width="9.43" height="11.77" fill="#721a6d"/>
<rect x="624.00" y="144.11" width="9.43" height="11.77" fill="#a82e5e"/>
<rect x="633.13" y="144.11" width="9.43" height="11.77" fill="#bc3754"/>
<rect x="642.27" y="144.11" width="9.43" height="11.77" fill="#bc3754"/>
<rect x="651.40" y="144.11" width="9.43" height="11.77" fill="#bc3754"/>
<rect x="660.53" y="144.11" width="9.43" height="11.77" fill="#bc3754"/>
<rect x="669.67" y="144.11" width="9.43" height="11.77" fill="#bc3754"/>
<rect x="541.80" y="155.58" width="9.43" height="11.77" fill="#000004"/>
<rect x="550.93" y="155.58" width="9.43" height="11.77" fill="#000004"/>
<rect x="560.07" y="155.58" width="9.43" height="11.77" fill="#000004"/>
<rect x="569.20" y="155.58" width="9.43" height="11.77" fill="#000004"/>
<rect x="578.33" y="155.58" width="9.43" height="11.77" fill="#070314"/>
<rect x="587.47" y="155.58" width="9.43" height="11.77" fill="#000004"/>
<rect x="596.60" y="155.58" width="9.43" height="11.77" fill="#12092e"/>
<rect x="605.73" y="155.58" width="9.43" height="11.77" fill="#390a5f"/>
<rect x="614.87" y="155.58" width="9.43" height="11.77" fill="#6e186d"/>
<rect x="624.00" y="155.58" width="9.43" height="11.77" fill="#bc3754"/>
<rect x="633.13" y="155.58" width="9.43" height="11.77" fill="#bc3754"/>
<rect x="642.27" y="155.58" width="9.43" height="11.77" fill="#bc3754"/>
<rect x="651.40" y="155.58" width="9.43" height="11.77" fill="#bc3754"/>
<rect x="660.53" y="155.58" width="9.43" height="11.77" fill="#bc3754"/>
<rect x="669.67" y="155.58" width="9.43" height="11.77" fill="#bc3754"/>
<rect x="541.80" y="167.05" width="9.43" height="11.77" fill="#000004"/>
<rect x="550.93" y="167.05" width="9.43" height="11.77" fill="#000004"/>
<rect x="560.07" y="167.05" width="9.43" height="11.77" fill="#000004"/>
<rect x="569.20" y="167.05" width="9.43" height="11.77" fill="#000004"/>
<rect x="578.33" y="167.05" width="9.43" height="11.77" fill="#000004"/>
<rect x="587.47" y="167.05" width="9.43" height="11.77" fill="#000004"/>
<rect x="596.60" y="167.05" width="9.43" height="11.77" fill="#000004"/>
<rect x="605.73" y="167.05" width="9.43" height="11.77" fill="#000004"/>
<rect x="614.87" y="167.05" width="9.43" height="11.77" fill="#6e186d"/>
<rect x="624.00" y="167.05" width="9.43" height="11.77" fill="#bf3a51"/>
<rect x="633.13" y="167.05" width="9.43" height="11.77" fill="#bc3754"/>
<rect x="642.27" y="167.05" width="9.43" height="11.77" fill="#bc3754"/>
<rect x="651.40" y="167.05" width="9.43" height="11.77" fill="#a82e5e"/>
<rect x="660.53" y="167.05" width="9.43" height="11.77" fill="#9f2b61"/>
<rect x="669.67" y="167.05" width="9.43" height="11.77" fill="#a82e5e"/>
<rect x="541.80" y="178.53" width="9.43" height="11.77" fill="#000004"/>
<rect x="550.93" y="178.53" width="9.43" height="11.77" fill="#000004"/>
<rect x="560.07" y="178.53" width="9.43" height="11.77" fill="#000004"/>
<rect x="569.20" y="178.53" width="9.43" height="11.77" fill="#000004"/>
<rect x="578.33" y="178.53" width="9.43" height="11.77" fill="#000004"/>
<rect x="587.47" y="178.53" width="9.43" height="11.77" fill="#000004"/>
<rect x="596.60" y="178.53" width="9.43" height="11.77" fill="#000004"/>
<rect x="605.73" y="178.53" width="9.43" height="11.77" fill="#000004"/>
<rect x="614.87" y="178.53" width="9.43" height="11.77" fill="#000004"/>
<rect x="624.00" y="178.53" width="9.43" height="11.77" fill="#000004"/>
<rect x="633.13" y="178.53" width="9.43" height="11.77" fill="#000004"/>
<rect x="642.27" y="178.53" width="9.43" height="11.77" fill="#000004"/>
<rect x="651.40" y="178.53" width="9.43" height="11.77" fill="#000004"/>
<rect x="660.53" y="178.53" width="9.43" height="11.77" fill="#000004"/>
<rect x="669.67" y="178.53" width="9.43" height="11.77" fill="#000004"/>
</g>
<rect x="541.8" y="17.9" width="137.0" height="172.1" fill="none" stroke="#111" stroke-width="0.9"/>
<text x="539.6" y="26.0" font-size="7.3" text-anchor="end" fill="#111" stroke="#111" stroke-width="0.3" >3</text>
<path d="M541.8 23.3 h2 M678.8 23.3 h-2" stroke="#111" stroke-width="0.7"/>
<text x="539.6" y="53.7" font-size="7.3" text-anchor="end" fill="#111" stroke="#111" stroke-width="0.3" >2.5</text>
<path d="M541.8 51.0 h2 M678.8 51.0 h-2" stroke="#111" stroke-width="0.7"/>
<text x="539.6" y="81.5" font-size="7.3" text-anchor="end" fill="#111" stroke="#111" stroke-width="0.3" >2</text>
<path d="M541.8 78.8 h2 M678.8 78.8 h-2" stroke="#111" stroke-width="0.7"/>
<text x="539.6" y="109.2" font-size="7.3" text-anchor="end" fill="#111" stroke="#111" stroke-width="0.3" >1.5</text>
<path d="M541.8 106.5 h2 M678.8 106.5 h-2" stroke="#111" stroke-width="0.7"/>
<text x="539.6" y="137.0" font-size="7.3" text-anchor="end" fill="#111" stroke="#111" stroke-width="0.3" >1</text>
<path d="M541.8 134.3 h2 M678.8 134.3 h-2" stroke="#111" stroke-width="0.7"/>
<text x="539.6" y="164.7" font-size="7.3" text-anchor="end" fill="#111" stroke="#111" stroke-width="0.3" >0.5</text>
<path d="M541.8 162.0 h2 M678.8 162.0 h-2" stroke="#111" stroke-width="0.7"/>
<text x="539.6" y="192.5" font-size="7.3" text-anchor="end" fill="#111" stroke="#111" stroke-width="0.3" >0</text>
<path d="M541.8 189.8 h2 M678.8 189.8 h-2" stroke="#111" stroke-width="0.7"/>
<text x="546.7" y="201.3" font-size="7.6" text-anchor="middle" fill="#111" stroke="#111" stroke-width="0.3" >0</text>
<path d="M545.8 190.0 v-2 M545.8 17.9 v2" stroke="#111" stroke-width="0.7"/>
<text x="578.6" y="201.3" font-size="7.6" text-anchor="middle" fill="#111" stroke="#111" stroke-width="0.3" >0.5</text>
<path d="M577.7 190.0 v-2 M577.7 17.9 v2" stroke="#111" stroke-width="0.7"/>
<text x="610.5" y="201.3" font-size="7.6" text-anchor="middle" fill="#111" stroke="#111" stroke-width="0.3" >1</text>
<path d="M609.6 190.0 v-2 M609.6 17.9 v2" stroke="#111" stroke-width="0.7"/>
<text x="642.3" y="201.3" font-size="7.6" text-anchor="middle" fill="#111" stroke="#111" stroke-width="0.3" >1.5</text>
<path d="M641.4 190.0 v-2 M641.4 17.9 v2" stroke="#111" stroke-width="0.7"/>
<text x="674.2" y="201.3" font-size="7.6" text-anchor="middle" fill="#111" stroke="#111" stroke-width="0.3" >2</text>
<path d="M673.3 190.0 v-2 M673.3 17.9 v2" stroke="#111" stroke-width="0.7"/>
<text x="610.6" y="215.6" font-size="7.6" text-anchor="middle" fill="#111" stroke="#111" stroke-width="0.3" >f (Hz)</text>
<text x="520.8" y="102.4" font-size="7.6" text-anchor="middle" fill="#111" stroke="#111" stroke-width="0.3" transform="rotate(-90 520.8 102.4)" >A (V)</text>
<linearGradient id="inferno" x1="0" y1="1" x2="0" y2="0"><stop offset="0.0" stop-color="#000004"/><stop offset="0.1" stop-color="#160b39"/><stop offset="0.2" stop-color="#420a68"/><stop offset="0.3" stop-color="#6a176e"/><stop offset="0.4" stop-color="#932667"/><stop offset="0.5" stop-color="#bc3754"/><stop offset="0.6" stop-color="#dd513a"/><stop offset="0.7" stop-color="#f37819"/><stop offset="0.8" stop-color="#fca50a"/><stop offset="0.9" stop-color="#f6d746"/><stop offset="1.0" stop-color="#fcffa4"/></linearGradient>
<rect x="688.2" y="17.9" width="19.9" height="172.1" fill="url(#inferno)" stroke="#1a1a1a" stroke-width="1.1"/>
<text x="711.6" y="20.6" font-size="7.4" text-anchor="start" fill="#111" stroke="#111" stroke-width="0.3" >15</text>
<path d="M708.1 17.9 h-2.2" stroke="#111" stroke-width="0.7"/>
<text x="711.6" y="49.3" font-size="7.4" text-anchor="start" fill="#111" stroke="#111" stroke-width="0.3" >10</text>
<path d="M708.1 46.6 h-2.2" stroke="#111" stroke-width="0.7"/>
<text x="711.6" y="78.0" font-size="7.4" text-anchor="start" fill="#111" stroke="#111" stroke-width="0.3" >5</text>
<path d="M708.1 75.3 h-2.2" stroke="#111" stroke-width="0.7"/>
<text x="711.6" y="106.6" font-size="7.4" text-anchor="start" fill="#111" stroke="#111" stroke-width="0.3" >0</text>
<path d="M708.1 103.9 h-2.2" stroke="#111" stroke-width="0.7"/>
<text x="711.6" y="135.3" font-size="7.4" text-anchor="start" fill="#111" stroke="#111" stroke-width="0.3" >-5</text>
<path d="M708.1 132.6 h-2.2" stroke="#111" stroke-width="0.7"/>
<text x="711.6" y="164.0" font-size="7.4" text-anchor="start" fill="#111" stroke="#111" stroke-width="0.3" >-10</text>
<path d="M708.1 161.3 h-2.2" stroke="#111" stroke-width="0.7"/>
<text x="711.6" y="192.7" font-size="7.4" text-anchor="start" fill="#111" stroke="#111" stroke-width="0.3" >-15</text>
<path d="M708.1 190.0 h-2.2" stroke="#111" stroke-width="0.7"/>
<text x="690.2" y="12.2" font-size="7.0" fill="#111">λ(s<tspan font-size="4.6" dy="-2.2">-1</tspan><tspan dy="2.2">)</tspan></text>
</g>
<g id="panel-d">
<rect x="36.2" y="275.5" width="199.8" height="148.3" fill="#fff" stroke="#3a3a3a" stroke-width="1.4"/>
<path d="M70.0 423.8 v-2.2 M70.0 275.5 v2.2M135.5 423.8 v-2.2 M135.5 275.5 v2.2M201.7 423.8 v-2.2 M201.7 275.5 v2.2M36.2 275.5 h2.2 M236.0 275.5 h-2.2M36.2 349.6 h2.2 M236.0 349.6 h-2.2M36.2 423.8 h2.2 M236.0 423.8 h-2.2" stroke="#111" stroke-width="0.8" fill="none"/>
<text x="70.0" y="440.2" font-size="9.3" text-anchor="middle" fill="#111" stroke="#111" stroke-width="0.3" >-1</text>
<text x="135.5" y="440.2" font-size="9.3" text-anchor="middle" fill="#111" stroke="#111" stroke-width="0.3" >0</text>
<text x="201.7" y="440.2" font-size="9.3" text-anchor="middle" fill="#111" stroke="#111" stroke-width="0.3" >1</text>
<text x="32.6" y="277.9" font-size="9.3" text-anchor="end" fill="#111" stroke="#111" stroke-width="0.4" >50</text>
<text x="32.6" y="427.0" font-size="9.3" text-anchor="end" fill="#111" stroke="#111" stroke-width="0.4" >-50</text>
<text x="135.5" y="452.2" font-size="9.3" text-anchor="middle" fill="#111" stroke="#111" stroke-width="0.3" >V (V)</text>
<text x="35.8" y="268.6" font-size="11.5" text-anchor="start" fill="#111" stroke="#111" stroke-width="0.3" >(d)</text>
<text x="135.8" y="268.3" font-size="11.8" text-anchor="middle" fill="#111" font-weight="bold" stroke="#111" stroke-width="0.3" >λ &lt; 0</text>
<text x="8.9" y="350.6" font-size="9.3" text-anchor="middle" fill="#111" stroke="#111" stroke-width="0.3" transform="rotate(-90 8.9 350.6)" letter-spacing="1.1">I (μA)</text>
<clipPath id="cd"><rect x="36.2" y="275.5" width="199.8" height="148.3"/></clipPath>
<g clip-path="url(#cd)">
<path d="M53.4 424.6 L136.3 349.7 L217.8 274.6" stroke="#0f72bd" stroke-width="2.2" fill="none" stroke-linejoin="round"/>
<path d="M55.6 424.6 L80.8 400.2" stroke="#0f72bd" stroke-width="2.1" fill="none"/>
<path d="M215.4 274.6 L186 303.6" stroke="#0f72bd" stroke-width="2.1" fill="none"/>
<path d="M111.2 349.4 L161.4 350.1 L163.2 342.0 L167.7 333.0 L170.4 328.6 L174.9 319.6 L181.2 311.5 L188.3 302.9" stroke="#0f72bd" stroke-width="2.1" fill="none" stroke-linejoin="round"/>
<path d="M111.6 349.4 L108.6 358.1 L104.1 367.1 L99.6 374.3 L97.8 378.8 L89.7 387.7 L79.9 399.7" stroke="#0f72bd" stroke-width="2.1" fill="none" stroke-linejoin="round"/>
</g>
<polygon points="163.3,329.8 154.2,325.3 153.6,333.7" fill="#ff0d0d" stroke="#111" stroke-width="0.7" stroke-linejoin="miter"/>
<polygon points="117.6,349.7 126.3,345.5 126.3,353.9" fill="#ff0d0d" stroke="#111" stroke-width="0.7" stroke-linejoin="miter"/>
<polygon points="155.1,350.2 146.2,346.1 146.2,354.4" fill="#ff0d0d" stroke="#111" stroke-width="0.7" stroke-linejoin="miter"/>
<polygon points="109.0,369.5 118.2,366.5 117.7,375.3" fill="#ff0d0d" stroke="#111" stroke-width="0.7" stroke-linejoin="miter"/>
</g>
<g id="panel-e">
<rect x="281.8" y="275.5" width="198.5" height="148.3" fill="#fff" stroke="#3a3a3a" stroke-width="1.4"/>
<path d="M314.5 423.8 v-2.2 M314.5 275.5 v2.2M379.9 423.8 v-2.2 M379.9 275.5 v2.2M446.1 423.8 v-2.2 M446.1 275.5 v2.2M281.8 275.5 h2.2 M480.3 275.5 h-2.2M281.8 349.6 h2.2 M480.3 349.6 h-2.2M281.8 423.8 h2.2 M480.3 423.8 h-2.2" stroke="#111" stroke-width="0.8" fill="none"/>
<text x="314.5" y="440.2" font-size="9.3" text-anchor="middle" fill="#111" stroke="#111" stroke-width="0.3" >-1</text>
<text x="379.9" y="440.2" font-size="9.3" text-anchor="middle" fill="#111" stroke="#111" stroke-width="0.3" >0</text>
<text x="446.1" y="440.2" font-size="9.3" text-anchor="middle" fill="#111" stroke="#111" stroke-width="0.3" >1</text>
<text x="274.4" y="280.5" font-size="9.3" text-anchor="end" fill="#111" stroke="#111" stroke-width="0.4" >50</text>
<text x="274.4" y="353.3" font-size="9.3" text-anchor="end" fill="#111" stroke="#111" stroke-width="0.4" >0</text>
<text x="274.4" y="429.9" font-size="9.3" text-anchor="end" fill="#111" stroke="#111" stroke-width="0.4" >-50</text>
<text x="379.9" y="452.2" font-size="9.3" text-anchor="middle" fill="#111" stroke="#111" stroke-width="0.3" >V (V)</text>
<text x="279.4" y="268.6" font-size="11.5" text-anchor="start" fill="#111" stroke="#111" stroke-width="0.3" >(e)</text>
<text x="379.9" y="268.3" font-size="11.8" text-anchor="middle" fill="#111" font-weight="bold" stroke="#111" stroke-width="0.3" >λ ≈ 0</text>
<path d="M313.7 349.7 L362.8 349.4 L372.4 348.8 L380.7 349.9 L390.3 349.9 L446.1 349.7 L446.1 340.6 L447.4 334.5 L448.8 330.3 L450.5 324.0 L452.1 319.3 L453.8 314.1 L456.0 308.6 L458.2 303.0 L460.4 298.1 L462.1 293.7 L461.0 289.8 L456.6 287.9 L451.6 288.4 L445.5 290.9 L438.6 295.3 L430.3 302.8 L417.9 315.2 L382.1 348.8 L343.4 384.1 L332.4 394.1 L324.1 400.7 L314.5 407.9 L307.6 410.9 L302.6 410.6 L298.8 407.9 L298.2 403.4 L299.9 397.4 L302.1 391.3 L304.3 385.5 L306.5 379.2 L308.7 373.1 L310.9 367.0 L312.6 361.0 L313.4 355.2 L313.7 349.7" stroke="#0f72bd" stroke-width="2.6" fill="none" stroke-linejoin="round"/>
<path d="M446.6 340.2 l1.3 -3.2" stroke="#0f72bd" stroke-width="3.8" fill="none" stroke-linecap="round"/>
<path d="M448.0 333.9 l1.3 -3.2" stroke="#0f72bd" stroke-width="3.8" fill="none" stroke-linecap="round"/>
<path d="M449.6 327.8 l1.3 -3.2" stroke="#0f72bd" stroke-width="3.8" fill="none" stroke-linecap="round"/>
<path d="M451.3 322.3 l1.3 -3.2" stroke="#0f72bd" stroke-width="3.8" fill="none" stroke-linecap="round"/>
<path d="M452.9 316.8 l1.3 -3.2" stroke="#0f72bd" stroke-width="3.8" fill="none" stroke-linecap="round"/>
<path d="M454.8 311.8 l1.3 -3.2" stroke="#0f72bd" stroke-width="3.8" fill="none" stroke-linecap="round"/>
<path d="M456.8 306.8 l1.3 -3.2" stroke="#0f72bd" stroke-width="3.8" fill="none" stroke-linecap="round"/>
<path d="M459.0 301.9 l1.3 -3.2" stroke="#0f72bd" stroke-width="3.8" fill="none" stroke-linecap="round"/>
<path d="M460.6 296.9 l1.3 -3.2" stroke="#0f72bd" stroke-width="3.8" fill="none" stroke-linecap="round"/>
<path d="M312.0 363.7 l1.3 -3.2" stroke="#0f72bd" stroke-width="3.8" fill="none" stroke-linecap="round"/>
<path d="M310.0 369.7 l1.3 -3.2" stroke="#0f72bd" stroke-width="3.8" fill="none" stroke-linecap="round"/>
<path d="M307.8 375.8 l1.3 -3.2" stroke="#0f72bd" stroke-width="3.8" fill="none" stroke-linecap="round"/>
<path d="M305.9 381.9 l1.3 -3.2" stroke="#0f72bd" stroke-width="3.8" fill="none" stroke-linecap="round"/>
<path d="M303.7 387.9 l1.3 -3.2" stroke="#0f72bd" stroke-width="3.8" fill="none" stroke-linecap="round"/>
<path d="M301.5 394.0 l1.3 -3.2" stroke="#0f72bd" stroke-width="3.8" fill="none" stroke-linecap="round"/>
<path d="M299.5 400.1 l1.3 -3.2" stroke="#0f72bd" stroke-width="3.8" fill="none" stroke-linecap="round"/>
<path d="M298.2 405.6 l1.3 -3.2" stroke="#0f72bd" stroke-width="3.8" fill="none" stroke-linecap="round"/>
<polygon points="424.9,316.6 414.2,312.3 414.7,320.8" fill="#ff0d0d" stroke="#111" stroke-width="0.7" stroke-linejoin="miter"/>
<polygon points="337.8,349.7 347.8,345.4 347.8,353.9" fill="#ff0d0d" stroke="#111" stroke-width="0.7" stroke-linejoin="miter"/>
<polygon points="423.3,349.7 413.3,345.4 413.3,353.9" fill="#ff0d0d" stroke="#111" stroke-width="0.7" stroke-linejoin="miter"/>
<polygon points="336.7,383.6 347.2,379.9 346.2,388.3" fill="#ff0d0d" stroke="#111" stroke-width="0.7" stroke-linejoin="miter"/>
</g>
<g id="panel-f">
<rect x="525.6" y="275.5" width="198.0" height="148.3" fill="#fff" stroke="#3a3a3a" stroke-width="1.4"/>
<path d="M557.8 423.8 v-2.2 M557.8 275.5 v2.2M624.0 423.8 v-2.2 M624.0 275.5 v2.2M690.2 423.8 v-2.2 M690.2 275.5 v2.2M525.6 275.5 h2.2 M723.6 275.5 h-2.2M525.6 349.6 h2.2 M723.6 349.6 h-2.2M525.6 423.8 h2.2 M723.6 423.8 h-2.2" stroke="#111" stroke-width="0.8" fill="none"/>
<text x="557.8" y="440.2" font-size="9.3" text-anchor="middle" fill="#111" stroke="#111" stroke-width="0.3" >-1</text>
<text x="624.0" y="440.2" font-size="9.3" text-anchor="middle" fill="#111" stroke="#111" stroke-width="0.3" >0</text>
<text x="690.2" y="440.2" font-size="9.3" text-anchor="middle" fill="#111" stroke="#111" stroke-width="0.3" >1</text>
<text x="521.0" y="280.2" font-size="9.3" text-anchor="end" fill="#111" stroke="#111" stroke-width="0.4" >50</text>
<text x="521.0" y="353.3" font-size="9.3" text-anchor="end" fill="#111" stroke="#111" stroke-width="0.4" >0</text>
<text x="521.0" y="429.8" font-size="9.3" text-anchor="end" fill="#111" stroke="#111" stroke-width="0.4" >-50</text>
<text x="624.0" y="452.2" font-size="9.3" text-anchor="middle" fill="#111" stroke="#111" stroke-width="0.3" >V (V)</text>
<text x="525.4" y="267.7" font-size="11.5" text-anchor="start" fill="#111" stroke="#111" stroke-width="0.3" >(f)</text>
<text x="624.2" y="268.3" font-size="11.8" text-anchor="middle" fill="#111" font-weight="bold" stroke="#111" stroke-width="0.3" >λ &gt; 0</text>
<path d="M540.6 349.6 H707.4" stroke="#0f72bd" stroke-width="2.6" fill="none"/>
<path d="M588.0 381.8 L624.2 349.0 L660.6 320.4" stroke="#0f72bd" stroke-width="2.4" fill="none"/>
<path d="M597.0 364.2 L624.2 349.0" stroke="#0f72bd" stroke-width="1.6" fill="none"/>
<path d="M624.2 349.6 L661.6 322.0" stroke="#0f72bd" stroke-width="2.6" fill="none"/>
<path d="M655.2 324.1 L661.4 318.6 L665.5 316.6 L670.3 313.5 L675.2 311.0 L678.6 308.8 L680.7 308.3 L682.3 309.7 L686.2 310.3 L688.3 309.7 L690.3 311.7 L692.4 313.8 L694.5 316.6 L695.6 320.4 L697.2 320.7 L699.3 322.3 L701.4 324.1 L702.8 326.5 L703.4 329.0 L704.3 332.4 L704.8 335.9 L705.5 340.0 L706.2 344.1 L706.6 349.4 L700.3 349.4 L700.0 344.1 L699.2 339.3 L698.6 335.9 L697.2 332.4 L695.9 329.7 L693.8 327.6 L691.7 326.2 L689.7 327.6 L687.6 328.3 L684.8 327.6 L683.4 326.2 L681.8 323.7 L679.3 322.1 L676.6 321.0 L673.8 320.7 L670.3 321.5 L667.6 322.8 L661.4 325.1 Z" fill="#0f72bd" stroke="#0f72bd" stroke-width="0.8" stroke-linejoin="round"/>
<path d="M627.6 348.6 L632.4 345.2 L636.6 343.6 L642.1 342.2 L647.6 341.4 L651.0 340.0 L653.8 340.6 L654.8 343.0 L657.2 343.6 L659.6 344.4 L660.7 349.1 Z" fill="#0f72bd" stroke="#0f72bd" stroke-width="0.6" stroke-linejoin="round"/>
<path d="M540.8 348.8 L541.3 352.2 L541.9 355.7 L542.7 360.5 L544.0 365.3 L546.0 367.0 L548.1 372.2 L549.9 375.3 L551.6 377.8 L553.6 378.9 L555.7 379.8 L556.8 383.6 L557.8 387.4 L559.3 389.9 L561.2 392.2 L564.0 392.1 L566.7 391.6 L570.9 390.0 L575.0 388.1 L578.4 385.9 L581.9 383.3 L587.4 379.4 L592.9 375.3 L588.1 377.1 L582.6 378.9 L580.5 379.1 L578.4 380.8 L576.4 381.2 L573.6 380.5 L571.6 379.8 L569.2 379.1 L567.4 377.8 L566.4 375.3 L565.3 373.6 L563.3 372.5 L561.2 372.9 L557.8 372.0 L554.3 370.2 L552.9 366.4 L551.6 362.6 L551.1 357.1 L550.9 350.4 Z" fill="#0f72bd" stroke="#0f72bd" stroke-width="0.8" stroke-linejoin="round"/>
<path d="M585.8 350.2 L589.5 355.7 L592.9 360.5 L596.4 364.8 L604.0 361.2 L610.9 357.9 L616.4 354.3 L623.3 349.9 Z" fill="#0f72bd" stroke="#0f72bd" stroke-width="0.6" stroke-linejoin="round"/>
<polygon points="660.1,317.1 667.0,323.4 655.8,325.3" fill="#ff0d0d" stroke="#111" stroke-width="0.7" stroke-linejoin="miter"/>
<polygon points="680.3,349.9 670.7,346.0 670.7,353.8" fill="#ff0d0d" stroke="#111" stroke-width="0.7" stroke-linejoin="miter"/>
<polygon points="568.3,349.5 577.8,345.7 577.6,354.0" fill="#ff0d0d" stroke="#111" stroke-width="0.7" stroke-linejoin="miter"/>
<polygon points="581.7,376.2 592.3,375.8 588.2,382.9" fill="#ff0d0d" stroke="#111" stroke-width="0.7" stroke-linejoin="miter"/>
</g>
<g id="panel-g">
<text x="49.8" y="491.6" font-size="11.5" text-anchor="start" fill="#111" stroke="#111" stroke-width="0.3" >(g)</text>
<rect x="80.0" y="487.8" width="239.9" height="217.6" fill="#fff" stroke="#333" stroke-width="1.25"/>
<path d="M80.0 705.4 v-2.6 M80.0 487.8 v2.6M95.0 705.4 v-1.5 M95.0 487.8 v1.5M110.0 705.4 v-1.5 M110.0 487.8 v1.5M125.0 705.4 v-1.5 M125.0 487.8 v1.5M140.0 705.4 v-2.6 M140.0 487.8 v2.6M155.0 705.4 v-1.5 M155.0 487.8 v1.5M170.0 705.4 v-1.5 M170.0 487.8 v1.5M185.0 705.4 v-1.5 M185.0 487.8 v1.5M199.9 705.4 v-2.6 M199.9 487.8 v2.6M214.9 705.4 v-1.5 M214.9 487.8 v1.5M229.9 705.4 v-1.5 M229.9 487.8 v1.5M244.9 705.4 v-1.5 M244.9 487.8 v1.5M259.9 705.4 v-2.6 M259.9 487.8 v2.6M274.9 705.4 v-1.5 M274.9 487.8 v1.5M289.9 705.4 v-1.5 M289.9 487.8 v1.5M304.9 705.4 v-1.5 M304.9 487.8 v1.5M319.9 705.4 v-2.6 M319.9 487.8 v2.6M80.0 705.4 h2.6 M319.9 705.4 h-2.6M80.0 683.6 h1.5 M319.9 683.6 h-1.5M80.0 661.9 h2.6 M319.9 661.9 h-2.6M80.0 640.1 h1.5 M319.9 640.1 h-1.5M80.0 618.4 h2.6 M319.9 618.4 h-2.6M80.0 596.6 h1.5 M319.9 596.6 h-1.5M80.0 574.8 h2.6 M319.9 574.8 h-2.6M80.0 553.1 h1.5 M319.9 553.1 h-1.5M80.0 531.3 h2.6 M319.9 531.3 h-2.6M80.0 509.6 h1.5 M319.9 509.6 h-1.5M80.0 487.8 h2.6 M319.9 487.8 h-2.6" stroke="#111" stroke-width="0.7" fill="none"/>
<text x="79.3" y="719.8" font-size="7.1" text-anchor="middle" fill="#111" stroke="#111" stroke-width="0.3" >-40</text>
<text x="137.4" y="719.8" font-size="7.1" text-anchor="middle" fill="#111" stroke="#111" stroke-width="0.3" >-20</text>
<text x="199.7" y="719.8" font-size="7.1" text-anchor="middle" fill="#111" stroke="#111" stroke-width="0.3" >0</text>
<text x="257.9" y="719.8" font-size="7.1" text-anchor="middle" fill="#111" stroke="#111" stroke-width="0.3" >20</text>
<text x="320.4" y="719.8" font-size="7.1" text-anchor="middle" fill="#111" stroke="#111" stroke-width="0.3" >40</text>
<text x="74.7" y="707.8" font-size="7.2" text-anchor="end" fill="#111" stroke="#111" stroke-width="0.3" >0</text>
<text x="74.7" y="664.3" font-size="7.2" text-anchor="end" fill="#111" stroke="#111" stroke-width="0.3" >0.2</text>
<text x="74.7" y="620.8" font-size="7.2" text-anchor="end" fill="#111" stroke="#111" stroke-width="0.3" >0.4</text>
<text x="74.7" y="577.2" font-size="7.2" text-anchor="end" fill="#111" stroke="#111" stroke-width="0.3" >0.6</text>
<text x="74.7" y="533.7" font-size="7.2" text-anchor="end" fill="#111" stroke="#111" stroke-width="0.3" >0.8</text>
<text x="74.7" y="490.2" font-size="7.2" text-anchor="end" fill="#111" stroke="#111" stroke-width="0.3" >1</text>
<text x="200.4" y="736.4" font-size="8.2" text-anchor="middle" fill="#111" stroke="#111" stroke-width="0.25" letter-spacing="0.5">λ(s<tspan font-size="5.8" dy="-3">-1</tspan><tspan dy="3">)</tspan></text>
<text x="52.9" y="607.8" font-size="7.4" text-anchor="middle" fill="#111" stroke="#111" stroke-width="0.3" transform="rotate(-90 52.9 607.8)" >Accuracy</text>
<g fill="#0000ff"><circle cx="113.8" cy="490.2" r="2.15"/><circle cx="117.1" cy="491.6" r="2.15"/><circle cx="120.7" cy="492.4" r="2.15"/><circle cx="129.8" cy="490.2" r="2.15"/><circle cx="133.7" cy="490.2" r="2.15"/><circle cx="131.7" cy="494.3" r="2.15"/><circle cx="142.8" cy="491.0" r="2.15"/><circle cx="145.5" cy="491.6" r="2.15"/><circle cx="149.7" cy="489.7" r="2.15"/><circle cx="153.8" cy="489.7" r="2.15"/><circle cx="157.4" cy="488.8" r="2.15"/><circle cx="157.9" cy="493.0" r="2.15"/><circle cx="162.1" cy="490.2" r="2.15"/><circle cx="166.2" cy="489.7" r="2.15"/><circle cx="170.3" cy="491.6" r="2.15"/><circle cx="173.1" cy="489.7" r="2.15"/><circle cx="177.2" cy="490.5" r="2.15"/><circle cx="180.0" cy="491.6" r="2.15"/><circle cx="182.8" cy="489.7" r="2.15"/><circle cx="185.5" cy="491.0" r="2.15"/><circle cx="188.3" cy="491.6" r="2.15"/><circle cx="191.0" cy="489.7" r="2.15"/><circle cx="193.8" cy="490.5" r="2.15"/><circle cx="195.2" cy="488.8" r="2.15"/><circle cx="196.6" cy="492.4" r="2.15"/><circle cx="164.3" cy="489.1" r="2.15"/><circle cx="168.4" cy="491.0" r="2.15"/><circle cx="175.0" cy="492.1" r="2.15"/><circle cx="181.7" cy="493.2" r="2.15"/><circle cx="184.1" cy="492.1" r="2.15"/><circle cx="187.2" cy="493.8" r="2.15"/><circle cx="189.9" cy="492.7" r="2.15"/><circle cx="192.7" cy="493.2" r="2.15"/><circle cx="194.3" cy="495.4" r="2.15"/><circle cx="196.6" cy="496.6" r="2.15"/><circle cx="198.2" cy="494.3" r="2.15"/><circle cx="199.9" cy="492.1" r="2.15"/><circle cx="201.0" cy="497.1" r="2.15"/><circle cx="202.6" cy="495.4" r="2.15"/><circle cx="204.3" cy="498.2" r="2.15"/><circle cx="205.9" cy="496.6" r="2.15"/><circle cx="207.6" cy="499.9" r="2.15"/><circle cx="209.2" cy="498.2" r="2.15"/><circle cx="210.9" cy="501.0" r="2.15"/><circle cx="212.6" cy="499.3" r="2.15"/><circle cx="214.2" cy="502.1" r="2.15"/><circle cx="215.9" cy="500.4" r="2.15"/><circle cx="218.1" cy="502.6" r="2.15"/><circle cx="220.3" cy="501.5" r="2.15"/><circle cx="222.5" cy="502.6" r="2.15"/><circle cx="202.1" cy="499.9" r="2.15"/><circle cx="205.4" cy="501.5" r="2.15"/><circle cx="208.7" cy="503.2" r="2.15"/><circle cx="209.8" cy="505.4" r="2.15"/><circle cx="213.7" cy="504.3" r="2.15"/><circle cx="217.0" cy="503.7" r="2.15"/><circle cx="199.3" cy="489.9" r="2.15"/><circle cx="201.5" cy="493.2" r="2.15"/><circle cx="203.7" cy="493.8" r="2.15"/><circle cx="207.0" cy="494.9" r="2.15"/><circle cx="197.1" cy="498.8" r="2.15"/><circle cx="193.8" cy="497.1" r="2.15"/><circle cx="191.0" cy="494.9" r="2.15"/><circle cx="195.4" cy="499.3" r="2.15"/><circle cx="198.8" cy="501.5" r="2.15"/><circle cx="210.3" cy="496.0" r="2.15"/><circle cx="212.0" cy="497.1" r="2.15"/><circle cx="228.8" cy="497.4" r="2.15"/><circle cx="228.8" cy="502.9" r="2.15"/><circle cx="248.1" cy="497.1" r="2.15"/><circle cx="270.5" cy="497.1" r="2.15"/><circle cx="275.7" cy="503.4" r="2.15"/><circle cx="284.8" cy="500.7" r="2.15"/></g>
<g fill="#000"><rect x="198.3" y="505.6" width="2.8" height="1.8"/><rect x="198.3" y="509.1" width="2.8" height="1.8"/><rect x="198.3" y="512.5" width="2.8" height="1.8"/><rect x="198.3" y="516.0" width="2.8" height="1.8"/><rect x="198.3" y="519.4" width="2.8" height="1.8"/><rect x="198.3" y="522.9" width="2.8" height="1.8"/><rect x="198.3" y="526.3" width="2.8" height="1.8"/><rect x="198.3" y="529.8" width="2.8" height="1.8"/><rect x="198.3" y="533.2" width="2.8" height="1.8"/><rect x="198.3" y="536.7" width="2.8" height="1.8"/><rect x="198.3" y="540.1" width="2.8" height="1.8"/><rect x="198.3" y="543.6" width="2.8" height="1.8"/><rect x="198.3" y="547.0" width="2.8" height="1.8"/><rect x="198.3" y="550.5" width="2.8" height="1.8"/><rect x="198.3" y="553.9" width="2.8" height="1.8"/><rect x="198.3" y="557.4" width="2.8" height="1.8"/><rect x="198.3" y="560.8" width="2.8" height="1.8"/><rect x="198.3" y="564.3" width="2.8" height="1.8"/><rect x="198.3" y="567.7" width="2.8" height="1.8"/><rect x="198.3" y="571.2" width="2.8" height="1.8"/><rect x="198.3" y="574.6" width="2.8" height="1.8"/><rect x="198.3" y="578.1" width="2.8" height="1.8"/><rect x="198.3" y="581.5" width="2.8" height="1.8"/><rect x="198.3" y="585.0" width="2.8" height="1.8"/><rect x="198.3" y="588.4" width="2.8" height="1.8"/><rect x="198.3" y="591.9" width="2.8" height="1.8"/><rect x="198.3" y="595.3" width="2.8" height="1.8"/><rect x="198.3" y="598.8" width="2.8" height="1.8"/><rect x="198.3" y="602.2" width="2.8" height="1.8"/><rect x="198.3" y="605.7" width="2.8" height="1.8"/><rect x="198.3" y="609.1" width="2.8" height="1.8"/><rect x="198.3" y="612.6" width="2.8" height="1.8"/><rect x="198.3" y="616.0" width="2.8" height="1.8"/><rect x="198.3" y="619.5" width="2.8" height="1.8"/><rect x="198.3" y="622.9" width="2.8" height="1.8"/><rect x="198.3" y="626.4" width="2.8" height="1.8"/><rect x="198.3" y="629.8" width="2.8" height="1.8"/><rect x="198.3" y="633.3" width="2.8" height="1.8"/><rect x="198.3" y="636.7" width="2.8" height="1.8"/><rect x="198.3" y="640.2" width="2.8" height="1.8"/><rect x="198.3" y="643.6" width="2.8" height="1.8"/><rect x="198.3" y="647.1" width="2.8" height="1.8"/><rect x="198.3" y="650.5" width="2.8" height="1.8"/><rect x="198.3" y="654.0" width="2.8" height="1.8"/><rect x="198.3" y="657.4" width="2.8" height="1.8"/><rect x="198.3" y="660.9" width="2.8" height="1.8"/><rect x="198.3" y="664.3" width="2.8" height="1.8"/><rect x="198.3" y="667.8" width="2.8" height="1.8"/><rect x="198.3" y="671.2" width="2.8" height="1.8"/><rect x="198.3" y="674.7" width="2.8" height="1.8"/><rect x="198.3" y="678.1" width="2.8" height="1.8"/><rect x="198.3" y="681.6" width="2.8" height="1.8"/><rect x="198.3" y="685.0" width="2.8" height="1.8"/><rect x="198.3" y="688.5" width="2.8" height="1.8"/><rect x="198.3" y="691.9" width="2.8" height="1.8"/><rect x="198.3" y="695.4" width="2.8" height="1.8"/><rect x="198.3" y="698.8" width="2.8" height="1.8"/><rect x="198.3" y="702.3" width="2.8" height="1.8"/></g>
<g fill="#00ff00"><circle cx="113.8" cy="555.5" r="2.15"/><circle cx="117.9" cy="562.4" r="2.15"/><circle cx="120.7" cy="569.3" r="2.15"/><circle cx="129.8" cy="551.4" r="2.15"/><circle cx="133.7" cy="557.4" r="2.15"/><circle cx="131.7" cy="574.8" r="2.15"/><circle cx="143.6" cy="547.8" r="2.15"/><circle cx="148.3" cy="553.3" r="2.15"/><circle cx="142.8" cy="564.6" r="2.15"/><circle cx="145.5" cy="567.9" r="2.15"/><circle cx="151.6" cy="545.3" r="2.15"/><circle cx="155.2" cy="550.6" r="2.15"/><circle cx="153.8" cy="560.5" r="2.15"/><circle cx="157.9" cy="564.3" r="2.15"/><circle cx="157.9" cy="571.2" r="2.15"/><circle cx="156.6" cy="543.1" r="2.15"/><circle cx="160.7" cy="548.6" r="2.15"/><circle cx="160.7" cy="557.4" r="2.15"/><circle cx="164.0" cy="560.5" r="2.15"/><circle cx="167.0" cy="554.1" r="2.15"/><circle cx="172.3" cy="557.4" r="2.15"/><circle cx="170.3" cy="537.6" r="2.15"/><circle cx="173.9" cy="541.7" r="2.15"/><circle cx="177.2" cy="539.0" r="2.15"/><circle cx="180.0" cy="537.6" r="2.15"/><circle cx="170.3" cy="566.0" r="2.15"/><circle cx="176.7" cy="563.0" r="2.15"/><circle cx="179.4" cy="567.9" r="2.15"/><circle cx="180.8" cy="557.4" r="2.15"/><circle cx="182.8" cy="543.1" r="2.15"/><circle cx="185.5" cy="547.2" r="2.15"/><circle cx="189.7" cy="563.8" r="2.15"/><circle cx="192.4" cy="569.3" r="2.15"/><circle cx="184.1" cy="535.4" r="2.15"/><circle cx="186.9" cy="537.6" r="2.15"/><circle cx="188.8" cy="536.2" r="2.15"/><circle cx="191.0" cy="534.3" r="2.15"/><circle cx="192.4" cy="528.8" r="2.15"/><circle cx="193.8" cy="537.6" r="2.15"/><circle cx="195.2" cy="540.3" r="2.15"/><circle cx="196.6" cy="536.2" r="2.15"/><circle cx="197.9" cy="543.1" r="2.15"/><circle cx="199.3" cy="528.8" r="2.15"/><circle cx="192.4" cy="517.7" r="2.15"/><circle cx="194.3" cy="521.0" r="2.15"/><circle cx="195.2" cy="516.1" r="2.15"/><circle cx="181.7" cy="540.3" r="2.15"/><circle cx="183.6" cy="538.7" r="2.15"/><circle cx="186.1" cy="540.9" r="2.15"/><circle cx="187.7" cy="539.2" r="2.15"/><circle cx="189.9" cy="538.1" r="2.15"/><circle cx="191.6" cy="540.3" r="2.15"/><circle cx="193.2" cy="535.4" r="2.15"/><circle cx="194.9" cy="534.3" r="2.15"/><circle cx="196.0" cy="538.7" r="2.15"/><circle cx="197.1" cy="540.9" r="2.15"/><circle cx="198.2" cy="537.6" r="2.15"/><circle cx="199.3" cy="534.8" r="2.15"/><circle cx="190.5" cy="542.6" r="2.15"/><circle cx="193.2" cy="544.2" r="2.15"/><circle cx="195.4" cy="545.9" r="2.15"/><circle cx="197.1" cy="532.6" r="2.15"/><circle cx="199.3" cy="540.3" r="2.15"/><circle cx="200.4" cy="545.3" r="2.15"/><circle cx="180.6" cy="545.3" r="2.15"/><circle cx="182.8" cy="547.0" r="2.15"/><circle cx="199.3" cy="551.4" r="2.15"/><circle cx="200.7" cy="555.5" r="2.15"/><circle cx="202.1" cy="559.7" r="2.15"/><circle cx="204.8" cy="563.8" r="2.15"/><circle cx="206.2" cy="566.6" r="2.15"/><circle cx="209.0" cy="567.9" r="2.15"/><circle cx="210.3" cy="570.7" r="2.15"/><circle cx="213.1" cy="572.1" r="2.15"/><circle cx="215.9" cy="574.8" r="2.15"/><circle cx="218.6" cy="573.4" r="2.15"/><circle cx="221.4" cy="574.0" r="2.15"/><circle cx="210.3" cy="566.6" r="2.15"/><circle cx="207.6" cy="569.3" r="2.15"/><circle cx="198.8" cy="548.6" r="2.15"/><circle cx="199.9" cy="553.6" r="2.15"/><circle cx="201.5" cy="557.4" r="2.15"/><circle cx="203.2" cy="561.9" r="2.15"/><circle cx="204.3" cy="566.3" r="2.15"/><circle cx="205.9" cy="569.0" r="2.15"/><circle cx="208.1" cy="571.2" r="2.15"/><circle cx="211.4" cy="573.4" r="2.15"/><circle cx="213.7" cy="575.7" r="2.15"/><circle cx="216.4" cy="577.3" r="2.15"/><circle cx="219.2" cy="576.2" r="2.15"/><circle cx="209.2" cy="565.2" r="2.15"/><circle cx="212.0" cy="568.5" r="2.15"/><circle cx="214.8" cy="570.7" r="2.15"/><circle cx="217.5" cy="572.3" r="2.15"/><circle cx="220.3" cy="575.7" r="2.15"/><circle cx="206.5" cy="564.1" r="2.15"/><circle cx="203.7" cy="558.6" r="2.15"/><circle cx="213.1" cy="577.9" r="2.15"/><circle cx="209.8" cy="574.0" r="2.15"/><circle cx="207.0" cy="572.3" r="2.15"/><circle cx="228.8" cy="574.0" r="2.15"/><circle cx="228.8" cy="577.0" r="2.15"/><circle cx="248.1" cy="572.9" r="2.15"/><circle cx="270.5" cy="573.4" r="2.15"/><circle cx="275.7" cy="575.7" r="2.15"/><circle cx="284.8" cy="574.3" r="2.15"/><circle cx="204.1" cy="566.6" r="2.15"/><circle cx="206.3" cy="568.8" r="2.15"/><circle cx="208.6" cy="571.0" r="2.15"/><circle cx="210.8" cy="573.2" r="2.15"/><circle cx="213.0" cy="575.4" r="2.15"/><circle cx="207.4" cy="566.6" r="2.15"/><circle cx="209.7" cy="568.8" r="2.15"/><circle cx="211.9" cy="571.0" r="2.15"/><circle cx="214.1" cy="573.2" r="2.15"/><circle cx="216.3" cy="575.4" r="2.15"/><circle cx="218.5" cy="574.3" r="2.15"/><circle cx="220.7" cy="573.2" r="2.15"/><circle cx="222.9" cy="573.8" r="2.15"/><circle cx="215.2" cy="571.0" r="2.15"/><circle cx="217.4" cy="572.1" r="2.15"/><circle cx="205.2" cy="571.0" r="2.15"/><circle cx="207.4" cy="573.2" r="2.15"/><circle cx="209.7" cy="575.4" r="2.15"/><circle cx="211.9" cy="576.6" r="2.15"/><circle cx="216.3" cy="579.3" r="2.15"/><circle cx="228.4" cy="573.2" r="2.15"/><circle cx="228.4" cy="576.6" r="2.15"/><circle cx="205.2" cy="561.1" r="2.15"/><circle cx="206.3" cy="564.4" r="2.15"/><circle cx="203.6" cy="569.4" r="2.15"/><circle cx="202.5" cy="566.6" r="2.15"/><circle cx="198.1" cy="570.5" r="2.15"/><circle cx="198.8" cy="563.3" r="2.15"/></g>
<g fill="#ff00ff"><circle cx="192.4" cy="582.4" r="2.15"/><circle cx="193.8" cy="586.6" r="2.15"/><circle cx="191.0" cy="589.3" r="2.15"/><circle cx="188.3" cy="593.4" r="2.15"/><circle cx="185.5" cy="596.2" r="2.15"/><circle cx="192.4" cy="594.8" r="2.15"/><circle cx="195.2" cy="597.6" r="2.15"/><circle cx="189.7" cy="597.6" r="2.15"/><circle cx="186.9" cy="600.3" r="2.15"/><circle cx="182.8" cy="604.5" r="2.15"/><circle cx="193.8" cy="601.7" r="2.15"/><circle cx="196.6" cy="592.1" r="2.15"/><circle cx="197.9" cy="583.8" r="2.15"/><circle cx="193.2" cy="591.5" r="2.15"/><circle cx="190.5" cy="595.4" r="2.15"/><circle cx="195.4" cy="588.8" r="2.15"/><circle cx="197.1" cy="596.5" r="2.15"/><circle cx="198.2" cy="600.3" r="2.15"/><circle cx="196.0" cy="603.7" r="2.15"/><circle cx="192.1" cy="599.2" r="2.15"/><circle cx="188.8" cy="601.4" r="2.15"/><circle cx="194.9" cy="579.4" r="2.15"/><circle cx="197.1" cy="575.5" r="2.15"/><circle cx="195.4" cy="572.2" r="2.15"/><circle cx="194.3" cy="564.5" r="2.15"/><circle cx="195.7" cy="567.8" r="2.15"/><circle cx="195.2" cy="554.8" r="2.15"/><circle cx="198.8" cy="570.0" r="2.15"/><circle cx="199.3" cy="578.3" r="2.15"/><circle cx="199.9" cy="587.1" r="2.15"/><circle cx="179.2" cy="612.8" r="2.15"/><circle cx="180.8" cy="615.5" r="2.15"/><circle cx="174.5" cy="621.0" r="2.15"/><circle cx="177.2" cy="627.9" r="2.15"/><circle cx="189.7" cy="618.3" r="2.15"/><circle cx="191.0" cy="625.2" r="2.15"/><circle cx="172.3" cy="626.6" r="2.15"/><circle cx="170.3" cy="632.1" r="2.15"/><circle cx="164.8" cy="636.2" r="2.15"/><circle cx="167.0" cy="636.8" r="2.15"/><circle cx="180.0" cy="634.0" r="2.15"/><circle cx="191.0" cy="634.8" r="2.15"/><circle cx="160.1" cy="644.5" r="2.15"/><circle cx="156.6" cy="645.9" r="2.15"/><circle cx="200.7" cy="621.0" r="2.15"/><circle cx="204.8" cy="623.8" r="2.15"/><circle cx="209.0" cy="626.6" r="2.15"/><circle cx="206.2" cy="632.1" r="2.15"/><circle cx="210.3" cy="636.2" r="2.15"/><circle cx="214.5" cy="633.4" r="2.15"/><circle cx="215.9" cy="639.0" r="2.15"/><circle cx="220.0" cy="637.6" r="2.15"/><circle cx="221.4" cy="642.3" r="2.15"/><circle cx="213.1" cy="643.1" r="2.15"/><circle cx="217.2" cy="644.5" r="2.15"/><circle cx="228.3" cy="641.2" r="2.15"/><circle cx="228.8" cy="644.5" r="2.15"/><circle cx="270.5" cy="643.9" r="2.15"/><circle cx="275.7" cy="647.2" r="2.15"/><circle cx="284.8" cy="646.7" r="2.15"/><circle cx="199.9" cy="608.6" r="2.15"/><circle cx="201.0" cy="614.1" r="2.15"/><circle cx="202.1" cy="629.3" r="2.15"/><circle cx="204.3" cy="636.2" r="2.15"/><circle cx="207.6" cy="639.0" r="2.15"/><circle cx="210.9" cy="641.2" r="2.15"/><circle cx="205.9" cy="642.3" r="2.15"/><circle cx="209.2" cy="635.7" r="2.15"/><circle cx="212.6" cy="638.4" r="2.15"/><circle cx="113.8" cy="683.8" r="2.15"/><circle cx="117.9" cy="680.2" r="2.15"/><circle cx="120.7" cy="670.0" r="2.15"/><circle cx="129.8" cy="676.9" r="2.15"/><circle cx="131.7" cy="670.0" r="2.15"/><circle cx="133.7" cy="670.0" r="2.15"/><circle cx="143.6" cy="670.6" r="2.15"/><circle cx="142.8" cy="660.3" r="2.15"/><circle cx="148.3" cy="658.4" r="2.15"/><circle cx="151.0" cy="661.2" r="2.15"/><circle cx="145.5" cy="650.7" r="2.15"/><circle cx="153.8" cy="653.4" r="2.15"/><circle cx="156.6" cy="654.8" r="2.15"/><circle cx="157.9" cy="649.3" r="2.15"/><circle cx="160.1" cy="646.0" r="2.15"/><circle cx="164.8" cy="636.1" r="2.15"/><circle cx="170.3" cy="633.3" r="2.15"/><circle cx="179.4" cy="634.1" r="2.15"/><circle cx="192.4" cy="635.0" r="2.15"/><circle cx="203.4" cy="636.9" r="2.15"/><circle cx="207.6" cy="639.7" r="2.15"/><circle cx="210.3" cy="642.4" r="2.15"/><circle cx="213.1" cy="641.0" r="2.15"/><circle cx="215.9" cy="643.8" r="2.15"/><circle cx="218.6" cy="639.7" r="2.15"/><circle cx="221.4" cy="641.6" r="2.15"/><circle cx="214.5" cy="634.1" r="2.15"/><circle cx="220.0" cy="647.9" r="2.15"/><circle cx="217.2" cy="650.7" r="2.15"/><circle cx="206.2" cy="650.7" r="2.15"/><circle cx="213.1" cy="654.8" r="2.15"/><circle cx="213.9" cy="657.6" r="2.15"/><circle cx="228.3" cy="641.0" r="2.15"/><circle cx="228.3" cy="645.2" r="2.15"/><circle cx="228.8" cy="647.9" r="2.15"/><circle cx="248.1" cy="654.0" r="2.15"/><circle cx="270.5" cy="643.8" r="2.15"/><circle cx="275.7" cy="647.9" r="2.15"/><circle cx="284.8" cy="647.1" r="2.15"/><circle cx="204.8" cy="643.2" r="2.15"/><circle cx="209.0" cy="645.4" r="2.15"/><circle cx="211.7" cy="647.1" r="2.15"/><circle cx="209.8" cy="637.7" r="2.15"/><circle cx="212.6" cy="635.5" r="2.15"/><circle cx="218.1" cy="637.7" r="2.15"/><circle cx="191.4" cy="586.5" r="2.15"/><circle cx="193.1" cy="588.7" r="2.15"/><circle cx="194.2" cy="591.4" r="2.15"/><circle cx="192.0" cy="593.1" r="2.15"/><circle cx="190.3" cy="595.3" r="2.15"/><circle cx="193.1" cy="596.4" r="2.15"/><circle cx="194.8" cy="598.6" r="2.15"/><circle cx="192.6" cy="600.3" r="2.15"/><circle cx="190.9" cy="601.9" r="2.15"/><circle cx="194.2" cy="603.6" r="2.15"/><circle cx="196.4" cy="601.9" r="2.15"/><circle cx="197.0" cy="597.5" r="2.15"/><circle cx="195.3" cy="594.2" r="2.15"/><circle cx="196.4" cy="589.8" r="2.15"/><circle cx="193.1" cy="584.8" r="2.15"/><circle cx="187.6" cy="596.4" r="2.15"/><circle cx="188.9" cy="599.2" r="2.15"/><circle cx="186.5" cy="593.1" r="2.15"/><circle cx="183.7" cy="604.7" r="2.15"/><circle cx="185.4" cy="603.0" r="2.15"/><circle cx="198.6" cy="576.6" r="2.15"/><circle cx="200.8" cy="579.3" r="2.15"/><circle cx="199.2" cy="597.5" r="2.15"/><circle cx="198.6" cy="614.1" r="2.15"/><circle cx="200.3" cy="611.9" r="2.15"/><circle cx="197.5" cy="620.7" r="2.15"/><circle cx="199.2" cy="622.9" r="2.15"/><circle cx="201.4" cy="624.0" r="2.15"/><circle cx="198.1" cy="629.5" r="2.15"/><circle cx="198.6" cy="617.4" r="2.15"/><circle cx="193.1" cy="581.0" r="2.15"/><circle cx="195.1" cy="571.9" r="2.15"/><circle cx="194.4" cy="566.8" r="2.15"/><circle cx="203.1" cy="636.6" r="2.15"/><circle cx="205.3" cy="638.8" r="2.15"/><circle cx="207.5" cy="637.7" r="2.15"/><circle cx="209.7" cy="639.9" r="2.15"/><circle cx="211.9" cy="642.1" r="2.15"/><circle cx="214.1" cy="644.3" r="2.15"/><circle cx="216.3" cy="641.0" r="2.15"/><circle cx="218.6" cy="639.9" r="2.15"/><circle cx="220.8" cy="638.8" r="2.15"/><circle cx="223.0" cy="641.0" r="2.15"/><circle cx="214.1" cy="638.8" r="2.15"/><circle cx="211.9" cy="636.6" r="2.15"/><circle cx="215.2" cy="646.6" r="2.15"/><circle cx="206.4" cy="651.0" r="2.15"/><circle cx="213.6" cy="658.7" r="2.15"/><circle cx="212.5" cy="656.5" r="2.15"/><circle cx="218.6" cy="648.8" r="2.15"/><circle cx="220.2" cy="647.7" r="2.15"/><circle cx="228.5" cy="641.0" r="2.15"/><circle cx="228.5" cy="644.3" r="2.15"/><circle cx="228.5" cy="647.7" r="2.15"/></g>
<g fill="#000"><circle cx="209.0" cy="582.4" r="2.15"/><circle cx="198.8" cy="583.2" r="2.15"/><circle cx="198.8" cy="587.9" r="2.15"/><circle cx="201.2" cy="600.9" r="2.15"/><circle cx="209.0" cy="614.7" r="2.15"/><circle cx="215.0" cy="616.1" r="2.15"/><circle cx="213.1" cy="627.1" r="2.15"/><circle cx="199.3" cy="633.4" r="2.15"/><circle cx="214.5" cy="654.3" r="2.15"/><circle cx="207.6" cy="646.6" r="2.15"/><circle cx="204.3" cy="661.2" r="2.15"/><circle cx="209.0" cy="664.5" r="2.15"/><circle cx="215.3" cy="665.0" r="2.15"/><circle cx="228.8" cy="665.3" r="2.15"/><circle cx="207.6" cy="670.0" r="2.15"/><circle cx="214.5" cy="672.8" r="2.15"/><circle cx="220.0" cy="670.0" r="2.15"/><circle cx="221.4" cy="674.1" r="2.15"/><circle cx="195.2" cy="681.0" r="2.15"/><circle cx="200.7" cy="679.1" r="2.15"/><circle cx="228.8" cy="678.3" r="2.15"/><circle cx="228.8" cy="683.8" r="2.15"/><circle cx="206.2" cy="684.6" r="2.15"/><circle cx="210.3" cy="684.6" r="2.15"/><circle cx="219.2" cy="686.0" r="2.15"/><circle cx="217.2" cy="687.4" r="2.15"/><circle cx="206.2" cy="691.2" r="2.15"/><circle cx="211.7" cy="691.2" r="2.15"/><circle cx="248.1" cy="690.7" r="2.15"/><circle cx="270.5" cy="667.2" r="2.15"/><circle cx="275.7" cy="683.8" r="2.15"/><circle cx="284.8" cy="696.2" r="2.15"/><circle cx="204.8" cy="696.2" r="2.15"/><circle cx="214.5" cy="694.8" r="2.15"/><circle cx="216.4" cy="696.2" r="2.15"/><circle cx="228.8" cy="697.0" r="2.15"/><circle cx="227.7" cy="698.4" r="2.15"/><circle cx="207.6" cy="700.3" r="2.15"/><circle cx="213.1" cy="703.1" r="2.15"/><circle cx="206.2" cy="703.9" r="2.15"/><circle cx="202.1" cy="703.1" r="2.15"/><circle cx="197.9" cy="636.1" r="2.15"/><circle cx="203.4" cy="636.1" r="2.15"/><circle cx="209.0" cy="638.8" r="2.15"/><circle cx="202.6" cy="699.5" r="2.15"/><circle cx="209.8" cy="702.3" r="2.15"/><circle cx="204.3" cy="701.2" r="2.15"/><circle cx="201.0" cy="696.2" r="2.15"/><circle cx="200.4" cy="689.3" r="2.15"/><circle cx="199.9" cy="671.4" r="2.15"/><circle cx="212.5" cy="695.1" r="2.15"/><circle cx="214.7" cy="696.2" r="2.15"/><circle cx="216.3" cy="694.6" r="2.15"/><circle cx="213.6" cy="697.9" r="2.15"/><circle cx="204.2" cy="696.2" r="2.15"/><circle cx="206.4" cy="699.0" r="2.15"/><circle cx="208.6" cy="700.6" r="2.15"/><circle cx="205.3" cy="701.7" r="2.15"/><circle cx="203.1" cy="699.5" r="2.15"/><circle cx="207.5" cy="702.8" r="2.15"/><circle cx="199.8" cy="699.5" r="2.15"/><circle cx="200.9" cy="701.7" r="2.15"/><circle cx="202.0" cy="703.9" r="2.15"/><circle cx="212.5" cy="703.4" r="2.15"/><circle cx="214.1" cy="702.8" r="2.15"/><circle cx="219.9" cy="675.5" r="2.15"/><circle cx="209.3" cy="644.9" r="2.15"/><circle cx="198.7" cy="641.6" r="2.15"/><circle cx="198.9" cy="644.1" r="2.15"/><circle cx="198.9" cy="633.3" r="2.15"/><circle cx="199.6" cy="670.8" r="2.15"/><circle cx="200.3" cy="678.6" r="2.15"/><circle cx="200.0" cy="691.8" r="2.15"/><circle cx="113.2" cy="705.3" r="2.15"/><circle cx="117.1" cy="705.3" r="2.15"/><circle cx="120.7" cy="705.3" r="2.15"/><circle cx="129.8" cy="705.3" r="2.15"/><circle cx="131.7" cy="705.3" r="2.15"/><circle cx="133.7" cy="705.3" r="2.15"/><circle cx="143.6" cy="705.3" r="2.15"/><circle cx="145.1" cy="705.3" r="2.15"/><circle cx="146.6" cy="705.3" r="2.15"/><circle cx="148.1" cy="705.3" r="2.15"/><circle cx="149.7" cy="705.3" r="2.15"/><circle cx="151.2" cy="705.3" r="2.15"/><circle cx="152.7" cy="705.3" r="2.15"/><circle cx="154.2" cy="705.3" r="2.15"/><circle cx="155.7" cy="705.3" r="2.15"/><circle cx="157.2" cy="705.3" r="2.15"/><circle cx="158.8" cy="705.3" r="2.15"/><circle cx="160.3" cy="705.3" r="2.15"/><circle cx="161.8" cy="705.3" r="2.15"/><circle cx="163.3" cy="705.3" r="2.15"/><circle cx="164.8" cy="705.3" r="2.15"/><circle cx="166.3" cy="705.3" r="2.15"/><circle cx="167.9" cy="705.3" r="2.15"/><circle cx="169.4" cy="705.3" r="2.15"/><circle cx="170.9" cy="705.3" r="2.15"/><circle cx="172.4" cy="705.3" r="2.15"/><circle cx="173.9" cy="705.3" r="2.15"/><circle cx="175.4" cy="705.3" r="2.15"/><circle cx="177.0" cy="705.3" r="2.15"/><circle cx="178.5" cy="705.3" r="2.15"/><circle cx="180.0" cy="705.3" r="2.15"/><circle cx="181.5" cy="705.3" r="2.15"/><circle cx="183.0" cy="705.3" r="2.15"/><circle cx="184.6" cy="705.3" r="2.15"/><circle cx="186.1" cy="705.3" r="2.15"/><circle cx="187.6" cy="705.3" r="2.15"/><circle cx="189.1" cy="705.3" r="2.15"/><circle cx="190.6" cy="705.3" r="2.15"/><circle cx="192.1" cy="705.3" r="2.15"/><circle cx="193.7" cy="705.3" r="2.15"/><circle cx="195.2" cy="705.3" r="2.15"/><circle cx="196.7" cy="705.3" r="2.15"/><circle cx="198.2" cy="705.3" r="2.15"/><circle cx="199.7" cy="705.3" r="2.15"/></g>
<rect x="88.9" y="578.2" width="74.8" height="51.2" fill="#fff" stroke="#1a1a1a" stroke-width="1"/>
<circle cx="106.2" cy="586.0" r="2.15" fill="#0000ff"/>
<text x="122.0" y="588.5" font-size="7.4" text-anchor="start" fill="#111" stroke="#111" stroke-width="0.3" >sin</text>
<circle cx="106.2" cy="598.4" r="2.15" fill="#00ff00"/>
<text x="122.0" y="600.9" font-size="7.4" text-anchor="start" fill="#111" stroke="#111" stroke-width="0.3" >square</text>
<circle cx="106.2" cy="611.2" r="2.15" fill="#ff00ff"/>
<text x="122.0" y="613.7" font-size="7.4" text-anchor="start" fill="#111" stroke="#111" stroke-width="0.3" >π/2-shift</text>
<circle cx="106.2" cy="622.6" r="2.15" fill="#000"/>
<text x="122.0" y="625.1" font-size="7.4" text-anchor="start" fill="#111" stroke="#111" stroke-width="0.3" >2f</text>
</g>
</g>
</svg>
</body>
</html>
